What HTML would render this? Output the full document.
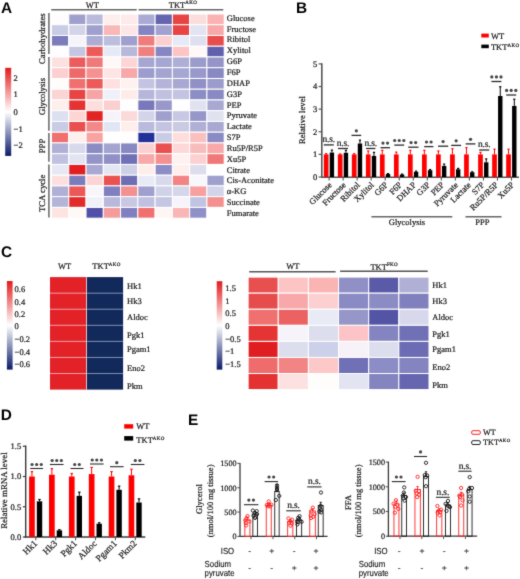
<!DOCTYPE html>
<html><head><meta charset="utf-8"><style>
html,body{margin:0;padding:0;background:#fff;}
svg{display:block;will-change:transform;}
text{stroke:#222;stroke-width:0.22px;paint-order:stroke;text-rendering:geometricPrecision;}
.ns{stroke:none;}
.ss{stroke:#111;stroke-width:0.12px;}

</style></head><body>
<svg width="520" height="579" viewBox="0 0 520 579">
<defs><filter id="soft" x="0" y="0" width="520" height="579" filterUnits="userSpaceOnUse" color-interpolation-filters="sRGB"><feConvolveMatrix order="3" kernelMatrix="0.02 0.08 0.02 0.08 0.60 0.08 0.02 0.08 0.02" edgeMode="duplicate" preserveAlpha="true"/></filter></defs>
<g filter="url(#soft)">
<rect x="0" y="0" width="520" height="579" fill="#fff"/>
<text class="ns" x="1.0" y="13.10" font-size="15.4" font-weight="bold" font-family='"Liberation Sans", sans-serif' fill="#000">A</text>
<rect x="51.50" y="14.00" width="17.27" height="10.74" fill="#FEFCFC" stroke="#ffffff" stroke-width="1" />
<rect x="68.77" y="14.00" width="17.27" height="10.74" fill="#A0A0CE" stroke="#ffffff" stroke-width="1" />
<rect x="86.04" y="14.00" width="17.27" height="10.74" fill="#BABADC" stroke="#ffffff" stroke-width="1" />
<rect x="103.31" y="14.00" width="17.27" height="10.74" fill="#FEEEEC" stroke="#ffffff" stroke-width="1" />
<rect x="120.58" y="14.00" width="17.27" height="10.74" fill="#FEEAEA" stroke="#ffffff" stroke-width="1" />
<rect x="137.85" y="14.00" width="17.27" height="10.74" fill="#AAAAD4" stroke="#ffffff" stroke-width="1" />
<rect x="155.12" y="14.00" width="17.27" height="10.74" fill="#6464B0" stroke="#ffffff" stroke-width="1" />
<rect x="172.39" y="14.00" width="17.27" height="10.74" fill="#E84444" stroke="#ffffff" stroke-width="1" />
<rect x="189.66" y="14.00" width="17.27" height="10.74" fill="#FDDCDC" stroke="#ffffff" stroke-width="1" />
<rect x="206.93" y="14.00" width="17.27" height="10.74" fill="#FAB2B2" stroke="#ffffff" stroke-width="1" />
<rect x="51.50" y="24.74" width="17.27" height="10.74" fill="#C8CCE4" stroke="#ffffff" stroke-width="1" />
<rect x="68.77" y="24.74" width="17.27" height="10.74" fill="#D4D4E8" stroke="#ffffff" stroke-width="1" />
<rect x="86.04" y="24.74" width="17.27" height="10.74" fill="#A0A0CE" stroke="#ffffff" stroke-width="1" />
<rect x="103.31" y="24.74" width="17.27" height="10.74" fill="#F9B8B8" stroke="#ffffff" stroke-width="1" />
<rect x="120.58" y="24.74" width="17.27" height="10.74" fill="#FEE6E6" stroke="#ffffff" stroke-width="1" />
<rect x="137.85" y="24.74" width="17.27" height="10.74" fill="#8484C2" stroke="#ffffff" stroke-width="1" />
<rect x="155.12" y="24.74" width="17.27" height="10.74" fill="#A2A2D0" stroke="#ffffff" stroke-width="1" />
<rect x="172.39" y="24.74" width="17.27" height="10.74" fill="#E84444" stroke="#ffffff" stroke-width="1" />
<rect x="189.66" y="24.74" width="17.27" height="10.74" fill="#E2E4F2" stroke="#ffffff" stroke-width="1" />
<rect x="206.93" y="24.74" width="17.27" height="10.74" fill="#F8A8A8" stroke="#ffffff" stroke-width="1" />
<rect x="51.50" y="35.49" width="17.27" height="10.74" fill="#7C7CBC" stroke="#ffffff" stroke-width="1" />
<rect x="68.77" y="35.49" width="17.27" height="10.74" fill="#F6F4FA" stroke="#ffffff" stroke-width="1" />
<rect x="86.04" y="35.49" width="17.27" height="10.74" fill="#ACACD4" stroke="#ffffff" stroke-width="1" />
<rect x="103.31" y="35.49" width="17.27" height="10.74" fill="#BCBEDE" stroke="#ffffff" stroke-width="1" />
<rect x="120.58" y="35.49" width="17.27" height="10.74" fill="#A0A0CE" stroke="#ffffff" stroke-width="1" />
<rect x="137.85" y="35.49" width="17.27" height="10.74" fill="#F07C7C" stroke="#ffffff" stroke-width="1" />
<rect x="155.12" y="35.49" width="17.27" height="10.74" fill="#FCD0D0" stroke="#ffffff" stroke-width="1" />
<rect x="172.39" y="35.49" width="17.27" height="10.74" fill="#E6EAF6" stroke="#ffffff" stroke-width="1" />
<rect x="189.66" y="35.49" width="17.27" height="10.74" fill="#DEE0F0" stroke="#ffffff" stroke-width="1" />
<rect x="206.93" y="35.49" width="17.27" height="10.74" fill="#E84C4C" stroke="#ffffff" stroke-width="1" />
<rect x="51.50" y="46.23" width="17.27" height="10.74" fill="#FFFDFD" stroke="#ffffff" stroke-width="1" />
<rect x="68.77" y="46.23" width="17.27" height="10.74" fill="#C4C6E2" stroke="#ffffff" stroke-width="1" />
<rect x="86.04" y="46.23" width="17.27" height="10.74" fill="#EC5A5A" stroke="#ffffff" stroke-width="1" />
<rect x="103.31" y="46.23" width="17.27" height="10.74" fill="#E6EAF6" stroke="#ffffff" stroke-width="1" />
<rect x="120.58" y="46.23" width="17.27" height="10.74" fill="#B8B8DA" stroke="#ffffff" stroke-width="1" />
<rect x="137.85" y="46.23" width="17.27" height="10.74" fill="#F08080" stroke="#ffffff" stroke-width="1" />
<rect x="155.12" y="46.23" width="17.27" height="10.74" fill="#8686C4" stroke="#ffffff" stroke-width="1" />
<rect x="172.39" y="46.23" width="17.27" height="10.74" fill="#FCC4C4" stroke="#ffffff" stroke-width="1" />
<rect x="189.66" y="46.23" width="17.27" height="10.74" fill="#FFF8F6" stroke="#ffffff" stroke-width="1" />
<rect x="206.93" y="46.23" width="17.27" height="10.74" fill="#6060AE" stroke="#ffffff" stroke-width="1" />
<rect x="51.50" y="56.98" width="17.27" height="10.74" fill="#FDE0E0" stroke="#ffffff" stroke-width="1" />
<rect x="68.77" y="56.98" width="17.27" height="10.74" fill="#EC5C5C" stroke="#ffffff" stroke-width="1" />
<rect x="86.04" y="56.98" width="17.27" height="10.74" fill="#F07A7A" stroke="#ffffff" stroke-width="1" />
<rect x="103.31" y="56.98" width="17.27" height="10.74" fill="#FEF8F6" stroke="#ffffff" stroke-width="1" />
<rect x="120.58" y="56.98" width="17.27" height="10.74" fill="#FCD6D6" stroke="#ffffff" stroke-width="1" />
<rect x="137.85" y="56.98" width="17.27" height="10.74" fill="#A6A6D2" stroke="#ffffff" stroke-width="1" />
<rect x="155.12" y="56.98" width="17.27" height="10.74" fill="#A6A6D2" stroke="#ffffff" stroke-width="1" />
<rect x="172.39" y="56.98" width="17.27" height="10.74" fill="#AEAED6" stroke="#ffffff" stroke-width="1" />
<rect x="189.66" y="56.98" width="17.27" height="10.74" fill="#9C9CCC" stroke="#ffffff" stroke-width="1" />
<rect x="206.93" y="56.98" width="17.27" height="10.74" fill="#9494C8" stroke="#ffffff" stroke-width="1" />
<rect x="51.50" y="67.72" width="17.27" height="10.74" fill="#FCD0D0" stroke="#ffffff" stroke-width="1" />
<rect x="68.77" y="67.72" width="17.27" height="10.74" fill="#EE6A6A" stroke="#ffffff" stroke-width="1" />
<rect x="86.04" y="67.72" width="17.27" height="10.74" fill="#F49292" stroke="#ffffff" stroke-width="1" />
<rect x="103.31" y="67.72" width="17.27" height="10.74" fill="#FEE4E4" stroke="#ffffff" stroke-width="1" />
<rect x="120.58" y="67.72" width="17.27" height="10.74" fill="#F8A8A8" stroke="#ffffff" stroke-width="1" />
<rect x="137.85" y="67.72" width="17.27" height="10.74" fill="#9C9CCE" stroke="#ffffff" stroke-width="1" />
<rect x="155.12" y="67.72" width="17.27" height="10.74" fill="#A4A4D0" stroke="#ffffff" stroke-width="1" />
<rect x="172.39" y="67.72" width="17.27" height="10.74" fill="#A6A6D2" stroke="#ffffff" stroke-width="1" />
<rect x="189.66" y="67.72" width="17.27" height="10.74" fill="#9898CA" stroke="#ffffff" stroke-width="1" />
<rect x="206.93" y="67.72" width="17.27" height="10.74" fill="#8888C2" stroke="#ffffff" stroke-width="1" />
<rect x="51.50" y="78.47" width="17.27" height="10.74" fill="#FFFCFC" stroke="#ffffff" stroke-width="1" />
<rect x="68.77" y="78.47" width="17.27" height="10.74" fill="#F07070" stroke="#ffffff" stroke-width="1" />
<rect x="86.04" y="78.47" width="17.27" height="10.74" fill="#EC5A5A" stroke="#ffffff" stroke-width="1" />
<rect x="103.31" y="78.47" width="17.27" height="10.74" fill="#FEE0E0" stroke="#ffffff" stroke-width="1" />
<rect x="120.58" y="78.47" width="17.27" height="10.74" fill="#FEF2F0" stroke="#ffffff" stroke-width="1" />
<rect x="137.85" y="78.47" width="17.27" height="10.74" fill="#C4C4E2" stroke="#ffffff" stroke-width="1" />
<rect x="155.12" y="78.47" width="17.27" height="10.74" fill="#B4B4DA" stroke="#ffffff" stroke-width="1" />
<rect x="172.39" y="78.47" width="17.27" height="10.74" fill="#A8A8D2" stroke="#ffffff" stroke-width="1" />
<rect x="189.66" y="78.47" width="17.27" height="10.74" fill="#9090C6" stroke="#ffffff" stroke-width="1" />
<rect x="206.93" y="78.47" width="17.27" height="10.74" fill="#9C9CCC" stroke="#ffffff" stroke-width="1" />
<rect x="51.50" y="89.21" width="17.27" height="10.74" fill="#FCD4D4" stroke="#ffffff" stroke-width="1" />
<rect x="68.77" y="89.21" width="17.27" height="10.74" fill="#E84444" stroke="#ffffff" stroke-width="1" />
<rect x="86.04" y="89.21" width="17.27" height="10.74" fill="#F6A4A4" stroke="#ffffff" stroke-width="1" />
<rect x="103.31" y="89.21" width="17.27" height="10.74" fill="#F0F0F8" stroke="#ffffff" stroke-width="1" />
<rect x="120.58" y="89.21" width="17.27" height="10.74" fill="#FEECEA" stroke="#ffffff" stroke-width="1" />
<rect x="137.85" y="89.21" width="17.27" height="10.74" fill="#B6B6DB" stroke="#ffffff" stroke-width="1" />
<rect x="155.12" y="89.21" width="17.27" height="10.74" fill="#C0C0E0" stroke="#ffffff" stroke-width="1" />
<rect x="172.39" y="89.21" width="17.27" height="10.74" fill="#C4C4E2" stroke="#ffffff" stroke-width="1" />
<rect x="189.66" y="89.21" width="17.27" height="10.74" fill="#8D8DC5" stroke="#ffffff" stroke-width="1" />
<rect x="206.93" y="89.21" width="17.27" height="10.74" fill="#8989C3" stroke="#ffffff" stroke-width="1" />
<rect x="51.50" y="99.96" width="17.27" height="10.74" fill="#FEEEEC" stroke="#ffffff" stroke-width="1" />
<rect x="68.77" y="99.96" width="17.27" height="10.74" fill="#E63232" stroke="#ffffff" stroke-width="1" />
<rect x="86.04" y="99.96" width="17.27" height="10.74" fill="#FDDEDE" stroke="#ffffff" stroke-width="1" />
<rect x="103.31" y="99.96" width="17.27" height="10.74" fill="#FBCFCF" stroke="#ffffff" stroke-width="1" />
<rect x="120.58" y="99.96" width="17.27" height="10.74" fill="#FFFEFE" stroke="#ffffff" stroke-width="1" />
<rect x="137.85" y="99.96" width="17.27" height="10.74" fill="#7878BA" stroke="#ffffff" stroke-width="1" />
<rect x="155.12" y="99.96" width="17.27" height="10.74" fill="#9898CA" stroke="#ffffff" stroke-width="1" />
<rect x="172.39" y="99.96" width="17.27" height="10.74" fill="#FFFFFF" stroke="#ffffff" stroke-width="1" />
<rect x="189.66" y="99.96" width="17.27" height="10.74" fill="#E0E2F0" stroke="#ffffff" stroke-width="1" />
<rect x="206.93" y="99.96" width="17.27" height="10.74" fill="#A8A8D2" stroke="#ffffff" stroke-width="1" />
<rect x="51.50" y="110.70" width="17.27" height="10.74" fill="#DDE0F0" stroke="#ffffff" stroke-width="1" />
<rect x="68.77" y="110.70" width="17.27" height="10.74" fill="#FDD6D4" stroke="#ffffff" stroke-width="1" />
<rect x="86.04" y="110.70" width="17.27" height="10.74" fill="#E42424" stroke="#ffffff" stroke-width="1" />
<rect x="103.31" y="110.70" width="17.27" height="10.74" fill="#F6F4FA" stroke="#ffffff" stroke-width="1" />
<rect x="120.58" y="110.70" width="17.27" height="10.74" fill="#FCDADA" stroke="#ffffff" stroke-width="1" />
<rect x="137.85" y="110.70" width="17.27" height="10.74" fill="#D2D4EA" stroke="#ffffff" stroke-width="1" />
<rect x="155.12" y="110.70" width="17.27" height="10.74" fill="#A0A0CE" stroke="#ffffff" stroke-width="1" />
<rect x="172.39" y="110.70" width="17.27" height="10.74" fill="#C8C8E4" stroke="#ffffff" stroke-width="1" />
<rect x="189.66" y="110.70" width="17.27" height="10.74" fill="#9696CA" stroke="#ffffff" stroke-width="1" />
<rect x="206.93" y="110.70" width="17.27" height="10.74" fill="#E0E2F0" stroke="#ffffff" stroke-width="1" />
<rect x="51.50" y="121.45" width="17.27" height="10.74" fill="#C8CCE4" stroke="#ffffff" stroke-width="1" />
<rect x="68.77" y="121.45" width="17.27" height="10.74" fill="#EA4E4E" stroke="#ffffff" stroke-width="1" />
<rect x="86.04" y="121.45" width="17.27" height="10.74" fill="#F28888" stroke="#ffffff" stroke-width="1" />
<rect x="103.31" y="121.45" width="17.27" height="10.74" fill="#E2E6F4" stroke="#ffffff" stroke-width="1" />
<rect x="120.58" y="121.45" width="17.27" height="10.74" fill="#FEEEEC" stroke="#ffffff" stroke-width="1" />
<rect x="137.85" y="121.45" width="17.27" height="10.74" fill="#BABADC" stroke="#ffffff" stroke-width="1" />
<rect x="155.12" y="121.45" width="17.27" height="10.74" fill="#C4C4E2" stroke="#ffffff" stroke-width="1" />
<rect x="172.39" y="121.45" width="17.27" height="10.74" fill="#CACAE4" stroke="#ffffff" stroke-width="1" />
<rect x="189.66" y="121.45" width="17.27" height="10.74" fill="#B0B0D6" stroke="#ffffff" stroke-width="1" />
<rect x="206.93" y="121.45" width="17.27" height="10.74" fill="#A8A8D2" stroke="#ffffff" stroke-width="1" />
<rect x="51.50" y="132.19" width="17.27" height="10.74" fill="#F07070" stroke="#ffffff" stroke-width="1" />
<rect x="68.77" y="132.19" width="17.27" height="10.74" fill="#FEEEEC" stroke="#ffffff" stroke-width="1" />
<rect x="86.04" y="132.19" width="17.27" height="10.74" fill="#F8A2A2" stroke="#ffffff" stroke-width="1" />
<rect x="103.31" y="132.19" width="17.27" height="10.74" fill="#FFFFFF" stroke="#ffffff" stroke-width="1" />
<rect x="120.58" y="132.19" width="17.27" height="10.74" fill="#FFFDFD" stroke="#ffffff" stroke-width="1" />
<rect x="137.85" y="132.19" width="17.27" height="10.74" fill="#24309A" stroke="#ffffff" stroke-width="1" />
<rect x="155.12" y="132.19" width="17.27" height="10.74" fill="#CACCE6" stroke="#ffffff" stroke-width="1" />
<rect x="172.39" y="132.19" width="17.27" height="10.74" fill="#FDDEDC" stroke="#ffffff" stroke-width="1" />
<rect x="189.66" y="132.19" width="17.27" height="10.74" fill="#FAC0C0" stroke="#ffffff" stroke-width="1" />
<rect x="206.93" y="132.19" width="17.27" height="10.74" fill="#8A8AC4" stroke="#ffffff" stroke-width="1" />
<rect x="51.50" y="142.94" width="17.27" height="10.74" fill="#B0B0D6" stroke="#ffffff" stroke-width="1" />
<rect x="68.77" y="142.94" width="17.27" height="10.74" fill="#D8DAEC" stroke="#ffffff" stroke-width="1" />
<rect x="86.04" y="142.94" width="17.27" height="10.74" fill="#8C8CC4" stroke="#ffffff" stroke-width="1" />
<rect x="103.31" y="142.94" width="17.27" height="10.74" fill="#A4A4D0" stroke="#ffffff" stroke-width="1" />
<rect x="120.58" y="142.94" width="17.27" height="10.74" fill="#8888C2" stroke="#ffffff" stroke-width="1" />
<rect x="137.85" y="142.94" width="17.27" height="10.74" fill="#FCD0D0" stroke="#ffffff" stroke-width="1" />
<rect x="155.12" y="142.94" width="17.27" height="10.74" fill="#EA5050" stroke="#ffffff" stroke-width="1" />
<rect x="172.39" y="142.94" width="17.27" height="10.74" fill="#FDD8D8" stroke="#ffffff" stroke-width="1" />
<rect x="189.66" y="142.94" width="17.27" height="10.74" fill="#F9BCBC" stroke="#ffffff" stroke-width="1" />
<rect x="206.93" y="142.94" width="17.27" height="10.74" fill="#F8A8A8" stroke="#ffffff" stroke-width="1" />
<rect x="51.50" y="153.69" width="17.27" height="10.74" fill="#C0C0E0" stroke="#ffffff" stroke-width="1" />
<rect x="68.77" y="153.69" width="17.27" height="10.74" fill="#E2E4F2" stroke="#ffffff" stroke-width="1" />
<rect x="86.04" y="153.69" width="17.27" height="10.74" fill="#9494C8" stroke="#ffffff" stroke-width="1" />
<rect x="103.31" y="153.69" width="17.27" height="10.74" fill="#9090C6" stroke="#ffffff" stroke-width="1" />
<rect x="120.58" y="153.69" width="17.27" height="10.74" fill="#7070B6" stroke="#ffffff" stroke-width="1" />
<rect x="137.85" y="153.69" width="17.27" height="10.74" fill="#F8A8A8" stroke="#ffffff" stroke-width="1" />
<rect x="155.12" y="153.69" width="17.27" height="10.74" fill="#F49090" stroke="#ffffff" stroke-width="1" />
<rect x="172.39" y="153.69" width="17.27" height="10.74" fill="#FEF2F0" stroke="#ffffff" stroke-width="1" />
<rect x="189.66" y="153.69" width="17.27" height="10.74" fill="#FCD0D0" stroke="#ffffff" stroke-width="1" />
<rect x="206.93" y="153.69" width="17.27" height="10.74" fill="#F07878" stroke="#ffffff" stroke-width="1" />
<rect x="51.50" y="164.43" width="17.27" height="10.74" fill="#E6E8F4" stroke="#ffffff" stroke-width="1" />
<rect x="68.77" y="164.43" width="17.27" height="10.74" fill="#E21E20" stroke="#ffffff" stroke-width="1" />
<rect x="86.04" y="164.43" width="17.27" height="10.74" fill="#A8A8D2" stroke="#ffffff" stroke-width="1" />
<rect x="103.31" y="164.43" width="17.27" height="10.74" fill="#E4E6F4" stroke="#ffffff" stroke-width="1" />
<rect x="120.58" y="164.43" width="17.27" height="10.74" fill="#CED0E8" stroke="#ffffff" stroke-width="1" />
<rect x="137.85" y="164.43" width="17.27" height="10.74" fill="#FEEEEA" stroke="#ffffff" stroke-width="1" />
<rect x="155.12" y="164.43" width="17.27" height="10.74" fill="#8C8CC6" stroke="#ffffff" stroke-width="1" />
<rect x="172.39" y="164.43" width="17.27" height="10.74" fill="#FEEEEC" stroke="#ffffff" stroke-width="1" />
<rect x="189.66" y="164.43" width="17.27" height="10.74" fill="#DCDEEE" stroke="#ffffff" stroke-width="1" />
<rect x="206.93" y="164.43" width="17.27" height="10.74" fill="#FFFFFF" stroke="#ffffff" stroke-width="1" />
<rect x="51.50" y="175.17" width="17.27" height="10.74" fill="#FDE0DE" stroke="#ffffff" stroke-width="1" />
<rect x="68.77" y="175.17" width="17.27" height="10.74" fill="#7C7CBC" stroke="#ffffff" stroke-width="1" />
<rect x="86.04" y="175.17" width="17.27" height="10.74" fill="#FCD4D4" stroke="#ffffff" stroke-width="1" />
<rect x="103.31" y="175.17" width="17.27" height="10.74" fill="#EA5252" stroke="#ffffff" stroke-width="1" />
<rect x="120.58" y="175.17" width="17.27" height="10.74" fill="#6E6EB4" stroke="#ffffff" stroke-width="1" />
<rect x="137.85" y="175.17" width="17.27" height="10.74" fill="#E8EAF6" stroke="#ffffff" stroke-width="1" />
<rect x="155.12" y="175.17" width="17.27" height="10.74" fill="#D8DAEC" stroke="#ffffff" stroke-width="1" />
<rect x="172.39" y="175.17" width="17.27" height="10.74" fill="#F28484" stroke="#ffffff" stroke-width="1" />
<rect x="189.66" y="175.17" width="17.27" height="10.74" fill="#F8F8FC" stroke="#ffffff" stroke-width="1" />
<rect x="206.93" y="175.17" width="17.27" height="10.74" fill="#A0A0CE" stroke="#ffffff" stroke-width="1" />
<rect x="51.50" y="185.92" width="17.27" height="10.74" fill="#B0B0D6" stroke="#ffffff" stroke-width="1" />
<rect x="68.77" y="185.92" width="17.27" height="10.74" fill="#EC5858" stroke="#ffffff" stroke-width="1" />
<rect x="86.04" y="185.92" width="17.27" height="10.74" fill="#F8F6FA" stroke="#ffffff" stroke-width="1" />
<rect x="103.31" y="185.92" width="17.27" height="10.74" fill="#8080C0" stroke="#ffffff" stroke-width="1" />
<rect x="120.58" y="185.92" width="17.27" height="10.74" fill="#F49090" stroke="#ffffff" stroke-width="1" />
<rect x="137.85" y="185.92" width="17.27" height="10.74" fill="#A0A0CE" stroke="#ffffff" stroke-width="1" />
<rect x="155.12" y="185.92" width="17.27" height="10.74" fill="#D0D2E8" stroke="#ffffff" stroke-width="1" />
<rect x="172.39" y="185.92" width="17.27" height="10.74" fill="#D4D6EA" stroke="#ffffff" stroke-width="1" />
<rect x="189.66" y="185.92" width="17.27" height="10.74" fill="#F8A0A0" stroke="#ffffff" stroke-width="1" />
<rect x="206.93" y="185.92" width="17.27" height="10.74" fill="#D2D4EA" stroke="#ffffff" stroke-width="1" />
<rect x="51.50" y="196.66" width="17.27" height="10.74" fill="#B4B4D8" stroke="#ffffff" stroke-width="1" />
<rect x="68.77" y="196.66" width="17.27" height="10.74" fill="#E22A2A" stroke="#ffffff" stroke-width="1" />
<rect x="86.04" y="196.66" width="17.27" height="10.74" fill="#F0F0F8" stroke="#ffffff" stroke-width="1" />
<rect x="103.31" y="196.66" width="17.27" height="10.74" fill="#B8B8DC" stroke="#ffffff" stroke-width="1" />
<rect x="120.58" y="196.66" width="17.27" height="10.74" fill="#C8C8E4" stroke="#ffffff" stroke-width="1" />
<rect x="137.85" y="196.66" width="17.27" height="10.74" fill="#C0C0E0" stroke="#ffffff" stroke-width="1" />
<rect x="155.12" y="196.66" width="17.27" height="10.74" fill="#C4C6E2" stroke="#ffffff" stroke-width="1" />
<rect x="172.39" y="196.66" width="17.27" height="10.74" fill="#F6F4FA" stroke="#ffffff" stroke-width="1" />
<rect x="189.66" y="196.66" width="17.27" height="10.74" fill="#C0C4E2" stroke="#ffffff" stroke-width="1" />
<rect x="206.93" y="196.66" width="17.27" height="10.74" fill="#F49090" stroke="#ffffff" stroke-width="1" />
<rect x="51.50" y="207.41" width="17.27" height="10.74" fill="#FDE4E2" stroke="#ffffff" stroke-width="1" />
<rect x="68.77" y="207.41" width="17.27" height="10.74" fill="#FEF8F6" stroke="#ffffff" stroke-width="1" />
<rect x="86.04" y="207.41" width="17.27" height="10.74" fill="#5050A8" stroke="#ffffff" stroke-width="1" />
<rect x="103.31" y="207.41" width="17.27" height="10.74" fill="#F49C9C" stroke="#ffffff" stroke-width="1" />
<rect x="120.58" y="207.41" width="17.27" height="10.74" fill="#8080C0" stroke="#ffffff" stroke-width="1" />
<rect x="137.85" y="207.41" width="17.27" height="10.74" fill="#F07070" stroke="#ffffff" stroke-width="1" />
<rect x="155.12" y="207.41" width="17.27" height="10.74" fill="#FEF6F4" stroke="#ffffff" stroke-width="1" />
<rect x="172.39" y="207.41" width="17.27" height="10.74" fill="#FAB6B6" stroke="#ffffff" stroke-width="1" />
<rect x="189.66" y="207.41" width="17.27" height="10.74" fill="#9090C8" stroke="#ffffff" stroke-width="1" />
<rect x="206.93" y="207.41" width="17.27" height="10.74" fill="#FFFFFF" stroke="#ffffff" stroke-width="1" />
<text x="226.80" y="20.70" font-size="8.5" text-anchor="start" font-family='"Liberation Serif", serif' fill="#1a1a1a" >Glucose</text>
<text x="226.80" y="31.55" font-size="8.5" text-anchor="start" font-family='"Liberation Serif", serif' fill="#1a1a1a" >Fructose</text>
<text x="226.80" y="42.40" font-size="8.5" text-anchor="start" font-family='"Liberation Serif", serif' fill="#1a1a1a" >Ribitol</text>
<text x="226.80" y="53.25" font-size="8.5" text-anchor="start" font-family='"Liberation Serif", serif' fill="#1a1a1a" >Xylitol</text>
<text x="226.80" y="64.10" font-size="8.5" text-anchor="start" font-family='"Liberation Serif", serif' fill="#1a1a1a" >G6P</text>
<text x="226.80" y="74.95" font-size="8.5" text-anchor="start" font-family='"Liberation Serif", serif' fill="#1a1a1a" >F6P</text>
<text x="226.80" y="85.80" font-size="8.5" text-anchor="start" font-family='"Liberation Serif", serif' fill="#1a1a1a" >DHAP</text>
<text x="226.80" y="96.65" font-size="8.5" text-anchor="start" font-family='"Liberation Serif", serif' fill="#1a1a1a" >G3P</text>
<text x="226.80" y="107.50" font-size="8.5" text-anchor="start" font-family='"Liberation Serif", serif' fill="#1a1a1a" >PEP</text>
<text x="226.80" y="118.35" font-size="8.5" text-anchor="start" font-family='"Liberation Serif", serif' fill="#1a1a1a" >Pyruvate</text>
<text x="226.80" y="129.20" font-size="8.5" text-anchor="start" font-family='"Liberation Serif", serif' fill="#1a1a1a" >Lactate</text>
<text x="226.80" y="140.05" font-size="8.5" text-anchor="start" font-family='"Liberation Serif", serif' fill="#1a1a1a" >S7P</text>
<text x="226.80" y="150.90" font-size="8.5" text-anchor="start" font-family='"Liberation Serif", serif' fill="#1a1a1a" >Ru5P/R5P</text>
<text x="226.80" y="161.75" font-size="8.5" text-anchor="start" font-family='"Liberation Serif", serif' fill="#1a1a1a" >Xu5P</text>
<text x="226.80" y="172.60" font-size="8.5" text-anchor="start" font-family='"Liberation Serif", serif' fill="#1a1a1a" >Citrate</text>
<text x="226.80" y="183.45" font-size="8.5" text-anchor="start" font-family='"Liberation Serif", serif' fill="#1a1a1a" >Cis-Aconitate</text>
<text x="226.80" y="194.30" font-size="8.5" text-anchor="start" font-family='"Liberation Serif", serif' fill="#1a1a1a" >&#945;-KG</text>
<text x="226.80" y="205.15" font-size="8.5" text-anchor="start" font-family='"Liberation Serif", serif' fill="#1a1a1a" >Succinate</text>
<text x="226.80" y="216.00" font-size="8.5" text-anchor="start" font-family='"Liberation Serif", serif' fill="#1a1a1a" >Fumarate</text>
<line x1="51.30" y1="9.80" x2="136.70" y2="9.80" stroke="#666" stroke-width="1.5"/>
<line x1="138.60" y1="9.80" x2="223.30" y2="9.80" stroke="#666" stroke-width="1.5"/>
<text x="92.30" y="7.60" font-size="8.5" text-anchor="middle" font-family='"Liberation Serif", serif' fill="#1a1a1a" >WT</text>
<text x="168.70" y="7.50" font-size="8.5" text-anchor="start" font-family='"Liberation Serif", serif' fill="#1a1a1a">TKT<tspan font-size="5.01" dy="-3.15" letter-spacing="0.4">AKO</tspan></text>
<line x1="48.90" y1="13.00" x2="48.90" y2="54.00" stroke="#666" stroke-width="1.5"/>
<line x1="48.90" y1="57.10" x2="48.90" y2="130.70" stroke="#666" stroke-width="1.5"/>
<line x1="48.90" y1="133.10" x2="48.90" y2="161.80" stroke="#666" stroke-width="1.5"/>
<line x1="48.90" y1="164.60" x2="48.90" y2="217.50" stroke="#666" stroke-width="1.5"/>
<text x="0" y="0" font-size="8.7" text-anchor="middle" font-family='"Liberation Serif", serif' fill="#1a1a1a" transform="translate(45.20,38.60) rotate(-90)">Carbohydrates</text>
<text x="0" y="0" font-size="8.7" text-anchor="middle" font-family='"Liberation Serif", serif' fill="#1a1a1a" transform="translate(45.20,96.50) rotate(-90)">Glycolysis</text>
<text x="0" y="0" font-size="8.7" text-anchor="middle" font-family='"Liberation Serif", serif' fill="#1a1a1a" transform="translate(45.20,146.00) rotate(-90)">PPP</text>
<text x="0" y="0" font-size="8.7" text-anchor="middle" font-family='"Liberation Serif", serif' fill="#1a1a1a" transform="translate(45.20,193.30) rotate(-90)">TCA cycle</text>
<defs><linearGradient id="cbA" x1="0" y1="0" x2="0" y2="1"><stop offset="0" stop-color="#E31A1C"/><stop offset="0.5" stop-color="#FFFFFF"/><stop offset="1" stop-color="#0A1A6A"/></linearGradient><linearGradient id="cbC" x1="0" y1="0" x2="0" y2="1"><stop offset="0" stop-color="#E31A1C"/><stop offset="0.5" stop-color="#FFFFFF"/><stop offset="1" stop-color="#0A1A6A"/></linearGradient></defs>
<rect x="5.20" y="67.80" width="6.00" height="88.10" fill="url(#cbA)" stroke="none" stroke-width="0" />
<text x="13.60" y="80.90" font-size="8.5" text-anchor="start" font-family='"Liberation Serif", serif' fill="#1a1a1a" >2</text>
<text x="13.60" y="97.40" font-size="8.5" text-anchor="start" font-family='"Liberation Serif", serif' fill="#1a1a1a" >1</text>
<text x="13.60" y="114.70" font-size="8.5" text-anchor="start" font-family='"Liberation Serif", serif' fill="#1a1a1a" >0</text>
<text x="13.60" y="131.90" font-size="8.5" text-anchor="start" font-family='"Liberation Serif", serif' fill="#1a1a1a" >&#8722;1</text>
<text x="13.60" y="148.40" font-size="8.5" text-anchor="start" font-family='"Liberation Serif", serif' fill="#1a1a1a" >&#8722;2</text>
<text class="ns" x="296.0" y="13.10" font-size="15.4" font-weight="bold" font-family='"Liberation Sans", sans-serif' fill="#000">B</text>
<line x1="321.80" y1="63.20" x2="321.80" y2="177.60" stroke="#555555" stroke-width="1.6"/>
<line x1="318.60" y1="177.00" x2="321.80" y2="177.00" stroke="#555555" stroke-width="1.2"/>
<text x="317.30" y="179.90" font-size="8.5" text-anchor="end" font-family='"Liberation Serif", serif' fill="#1a1a1a" >0</text>
<line x1="318.60" y1="154.38" x2="321.80" y2="154.38" stroke="#555555" stroke-width="1.2"/>
<text x="317.30" y="157.28" font-size="8.5" text-anchor="end" font-family='"Liberation Serif", serif' fill="#1a1a1a" >1</text>
<line x1="318.60" y1="131.76" x2="321.80" y2="131.76" stroke="#555555" stroke-width="1.2"/>
<text x="317.30" y="134.66" font-size="8.5" text-anchor="end" font-family='"Liberation Serif", serif' fill="#1a1a1a" >2</text>
<line x1="318.60" y1="109.14" x2="321.80" y2="109.14" stroke="#555555" stroke-width="1.2"/>
<text x="317.30" y="112.04" font-size="8.5" text-anchor="end" font-family='"Liberation Serif", serif' fill="#1a1a1a" >3</text>
<line x1="318.60" y1="86.52" x2="321.80" y2="86.52" stroke="#555555" stroke-width="1.2"/>
<text x="317.30" y="89.42" font-size="8.5" text-anchor="end" font-family='"Liberation Serif", serif' fill="#1a1a1a" >4</text>
<line x1="318.60" y1="63.90" x2="321.80" y2="63.90" stroke="#555555" stroke-width="1.2"/>
<text x="317.30" y="66.80" font-size="8.5" text-anchor="end" font-family='"Liberation Serif", serif' fill="#1a1a1a" >5</text>
<line x1="321.10" y1="177.20" x2="519.00" y2="177.20" stroke="#555555" stroke-width="1.6"/>
<text x="0" y="0" font-size="8.7" text-anchor="middle" font-family='"Liberation Serif", serif' fill="#1a1a1a" transform="translate(305.30,120.10) rotate(-90)">Relative level</text>
<line x1="326.15" y1="154.38" x2="326.15" y2="153.70" stroke="#ff0000" stroke-width="1.0"/>
<line x1="325.05" y1="153.70" x2="327.25" y2="153.70" stroke="#ff0000" stroke-width="1.2"/>
<rect x="323.80" y="154.38" width="4.70" height="22.62" fill="#ff0000" stroke="none" stroke-width="0" />
<line x1="331.90" y1="152.57" x2="331.90" y2="150.08" stroke="#000" stroke-width="1.0"/>
<line x1="330.80" y1="150.08" x2="333.00" y2="150.08" stroke="#000" stroke-width="1.2"/>
<rect x="329.70" y="152.57" width="4.40" height="24.43" fill="#000" stroke="none" stroke-width="0" />
<line x1="329.10" y1="177.20" x2="329.10" y2="180.60" stroke="#555555" stroke-width="1.1"/>
<line x1="340.18" y1="154.38" x2="340.18" y2="153.93" stroke="#ff0000" stroke-width="1.0"/>
<line x1="339.08" y1="153.93" x2="341.28" y2="153.93" stroke="#ff0000" stroke-width="1.2"/>
<rect x="337.83" y="154.38" width="4.70" height="22.62" fill="#ff0000" stroke="none" stroke-width="0" />
<line x1="345.93" y1="152.80" x2="345.93" y2="150.31" stroke="#000" stroke-width="1.0"/>
<line x1="344.83" y1="150.31" x2="347.03" y2="150.31" stroke="#000" stroke-width="1.2"/>
<rect x="343.73" y="152.80" width="4.40" height="24.20" fill="#000" stroke="none" stroke-width="0" />
<line x1="343.13" y1="177.20" x2="343.13" y2="180.60" stroke="#555555" stroke-width="1.1"/>
<line x1="354.21" y1="154.38" x2="354.21" y2="153.70" stroke="#ff0000" stroke-width="1.0"/>
<line x1="353.11" y1="153.70" x2="355.31" y2="153.70" stroke="#ff0000" stroke-width="1.2"/>
<rect x="351.86" y="154.38" width="4.70" height="22.62" fill="#ff0000" stroke="none" stroke-width="0" />
<line x1="359.96" y1="143.52" x2="359.96" y2="140.13" stroke="#000" stroke-width="1.0"/>
<line x1="358.86" y1="140.13" x2="361.06" y2="140.13" stroke="#000" stroke-width="1.2"/>
<rect x="357.76" y="143.52" width="4.40" height="33.48" fill="#000" stroke="none" stroke-width="0" />
<line x1="357.16" y1="177.20" x2="357.16" y2="180.60" stroke="#555555" stroke-width="1.1"/>
<line x1="368.24" y1="154.38" x2="368.24" y2="150.99" stroke="#ff0000" stroke-width="1.0"/>
<line x1="367.14" y1="150.99" x2="369.34" y2="150.99" stroke="#ff0000" stroke-width="1.2"/>
<rect x="365.89" y="154.38" width="4.70" height="22.62" fill="#ff0000" stroke="none" stroke-width="0" />
<line x1="373.99" y1="155.96" x2="373.99" y2="152.34" stroke="#000" stroke-width="1.0"/>
<line x1="372.89" y1="152.34" x2="375.09" y2="152.34" stroke="#000" stroke-width="1.2"/>
<rect x="371.79" y="155.96" width="4.40" height="21.04" fill="#000" stroke="none" stroke-width="0" />
<line x1="371.19" y1="177.20" x2="371.19" y2="180.60" stroke="#555555" stroke-width="1.1"/>
<line x1="382.27" y1="154.38" x2="382.27" y2="150.31" stroke="#ff0000" stroke-width="1.0"/>
<line x1="381.17" y1="150.31" x2="383.37" y2="150.31" stroke="#ff0000" stroke-width="1.2"/>
<rect x="379.92" y="154.38" width="4.70" height="22.62" fill="#ff0000" stroke="none" stroke-width="0" />
<line x1="388.02" y1="174.06" x2="388.02" y2="173.61" stroke="#000" stroke-width="1.0"/>
<line x1="386.92" y1="173.61" x2="389.12" y2="173.61" stroke="#000" stroke-width="1.2"/>
<rect x="385.82" y="174.06" width="4.40" height="2.94" fill="#000" stroke="none" stroke-width="0" />
<line x1="385.22" y1="177.20" x2="385.22" y2="180.60" stroke="#555555" stroke-width="1.1"/>
<line x1="396.30" y1="154.38" x2="396.30" y2="152.12" stroke="#ff0000" stroke-width="1.0"/>
<line x1="395.20" y1="152.12" x2="397.40" y2="152.12" stroke="#ff0000" stroke-width="1.2"/>
<rect x="393.95" y="154.38" width="4.70" height="22.62" fill="#ff0000" stroke="none" stroke-width="0" />
<line x1="402.05" y1="174.51" x2="402.05" y2="174.06" stroke="#000" stroke-width="1.0"/>
<line x1="400.95" y1="174.06" x2="403.15" y2="174.06" stroke="#000" stroke-width="1.2"/>
<rect x="399.85" y="174.51" width="4.40" height="2.49" fill="#000" stroke="none" stroke-width="0" />
<line x1="399.25" y1="177.20" x2="399.25" y2="180.60" stroke="#555555" stroke-width="1.1"/>
<line x1="410.33" y1="154.38" x2="410.33" y2="150.31" stroke="#ff0000" stroke-width="1.0"/>
<line x1="409.23" y1="150.31" x2="411.43" y2="150.31" stroke="#ff0000" stroke-width="1.2"/>
<rect x="407.98" y="154.38" width="4.70" height="22.62" fill="#ff0000" stroke="none" stroke-width="0" />
<line x1="416.08" y1="171.80" x2="416.08" y2="171.12" stroke="#000" stroke-width="1.0"/>
<line x1="414.98" y1="171.12" x2="417.18" y2="171.12" stroke="#000" stroke-width="1.2"/>
<rect x="413.88" y="171.80" width="4.40" height="5.20" fill="#000" stroke="none" stroke-width="0" />
<line x1="413.28" y1="177.20" x2="413.28" y2="180.60" stroke="#555555" stroke-width="1.1"/>
<line x1="424.36" y1="154.38" x2="424.36" y2="150.31" stroke="#ff0000" stroke-width="1.0"/>
<line x1="423.26" y1="150.31" x2="425.46" y2="150.31" stroke="#ff0000" stroke-width="1.2"/>
<rect x="422.01" y="154.38" width="4.70" height="22.62" fill="#ff0000" stroke="none" stroke-width="0" />
<line x1="430.11" y1="170.21" x2="430.11" y2="169.54" stroke="#000" stroke-width="1.0"/>
<line x1="429.01" y1="169.54" x2="431.21" y2="169.54" stroke="#000" stroke-width="1.2"/>
<rect x="427.91" y="170.21" width="4.40" height="6.79" fill="#000" stroke="none" stroke-width="0" />
<line x1="427.31" y1="177.20" x2="427.31" y2="180.60" stroke="#555555" stroke-width="1.1"/>
<line x1="438.39" y1="154.38" x2="438.39" y2="150.99" stroke="#ff0000" stroke-width="1.0"/>
<line x1="437.29" y1="150.99" x2="439.49" y2="150.99" stroke="#ff0000" stroke-width="1.2"/>
<rect x="436.04" y="154.38" width="4.70" height="22.62" fill="#ff0000" stroke="none" stroke-width="0" />
<line x1="444.14" y1="165.92" x2="444.14" y2="164.11" stroke="#000" stroke-width="1.0"/>
<line x1="443.04" y1="164.11" x2="445.24" y2="164.11" stroke="#000" stroke-width="1.2"/>
<rect x="441.94" y="165.92" width="4.40" height="11.08" fill="#000" stroke="none" stroke-width="0" />
<line x1="441.34" y1="177.20" x2="441.34" y2="180.60" stroke="#555555" stroke-width="1.1"/>
<line x1="452.42" y1="154.38" x2="452.42" y2="148.72" stroke="#ff0000" stroke-width="1.0"/>
<line x1="451.32" y1="148.72" x2="453.52" y2="148.72" stroke="#ff0000" stroke-width="1.2"/>
<rect x="450.07" y="154.38" width="4.70" height="22.62" fill="#ff0000" stroke="none" stroke-width="0" />
<line x1="458.17" y1="169.31" x2="458.17" y2="168.40" stroke="#000" stroke-width="1.0"/>
<line x1="457.07" y1="168.40" x2="459.27" y2="168.40" stroke="#000" stroke-width="1.2"/>
<rect x="455.97" y="169.31" width="4.40" height="7.69" fill="#000" stroke="none" stroke-width="0" />
<line x1="455.37" y1="177.20" x2="455.37" y2="180.60" stroke="#555555" stroke-width="1.1"/>
<line x1="466.45" y1="154.38" x2="466.45" y2="147.59" stroke="#ff0000" stroke-width="1.0"/>
<line x1="465.35" y1="147.59" x2="467.55" y2="147.59" stroke="#ff0000" stroke-width="1.2"/>
<rect x="464.10" y="154.38" width="4.70" height="22.62" fill="#ff0000" stroke="none" stroke-width="0" />
<line x1="472.20" y1="172.25" x2="472.20" y2="171.80" stroke="#000" stroke-width="1.0"/>
<line x1="471.10" y1="171.80" x2="473.30" y2="171.80" stroke="#000" stroke-width="1.2"/>
<rect x="470.00" y="172.25" width="4.40" height="4.75" fill="#000" stroke="none" stroke-width="0" />
<line x1="469.40" y1="177.20" x2="469.40" y2="180.60" stroke="#555555" stroke-width="1.1"/>
<line x1="480.48" y1="154.38" x2="480.48" y2="152.34" stroke="#ff0000" stroke-width="1.0"/>
<line x1="479.38" y1="152.34" x2="481.58" y2="152.34" stroke="#ff0000" stroke-width="1.2"/>
<rect x="478.13" y="154.38" width="4.70" height="22.62" fill="#ff0000" stroke="none" stroke-width="0" />
<line x1="486.23" y1="162.30" x2="486.23" y2="158.90" stroke="#000" stroke-width="1.0"/>
<line x1="485.13" y1="158.90" x2="487.33" y2="158.90" stroke="#000" stroke-width="1.2"/>
<rect x="484.03" y="162.30" width="4.40" height="14.70" fill="#000" stroke="none" stroke-width="0" />
<line x1="483.43" y1="177.20" x2="483.43" y2="180.60" stroke="#555555" stroke-width="1.1"/>
<line x1="494.51" y1="154.38" x2="494.51" y2="149.18" stroke="#ff0000" stroke-width="1.0"/>
<line x1="493.41" y1="149.18" x2="495.61" y2="149.18" stroke="#ff0000" stroke-width="1.2"/>
<rect x="492.16" y="154.38" width="4.70" height="22.62" fill="#ff0000" stroke="none" stroke-width="0" />
<line x1="500.26" y1="96.02" x2="500.26" y2="86.75" stroke="#000" stroke-width="1.0"/>
<line x1="499.16" y1="86.75" x2="501.36" y2="86.75" stroke="#000" stroke-width="1.2"/>
<rect x="498.06" y="96.02" width="4.40" height="80.98" fill="#000" stroke="none" stroke-width="0" />
<line x1="497.46" y1="177.20" x2="497.46" y2="180.60" stroke="#555555" stroke-width="1.1"/>
<line x1="508.54" y1="154.38" x2="508.54" y2="149.18" stroke="#ff0000" stroke-width="1.0"/>
<line x1="507.44" y1="149.18" x2="509.64" y2="149.18" stroke="#ff0000" stroke-width="1.2"/>
<rect x="506.19" y="154.38" width="4.70" height="22.62" fill="#ff0000" stroke="none" stroke-width="0" />
<line x1="514.29" y1="105.97" x2="514.29" y2="99.19" stroke="#000" stroke-width="1.0"/>
<line x1="513.19" y1="99.19" x2="515.39" y2="99.19" stroke="#000" stroke-width="1.2"/>
<rect x="512.09" y="105.97" width="4.40" height="71.03" fill="#000" stroke="none" stroke-width="0" />
<line x1="511.49" y1="177.20" x2="511.49" y2="180.60" stroke="#555555" stroke-width="1.1"/>
<text x="0" y="0" font-size="8.5" text-anchor="end" font-family='"Liberation Serif", serif' fill="#1a1a1a" transform="translate(332.30,185.50) rotate(-45)">Glucose</text>
<text x="0" y="0" font-size="8.5" text-anchor="end" font-family='"Liberation Serif", serif' fill="#1a1a1a" transform="translate(346.33,185.50) rotate(-45)">Fructose</text>
<text x="0" y="0" font-size="8.5" text-anchor="end" font-family='"Liberation Serif", serif' fill="#1a1a1a" transform="translate(360.36,185.50) rotate(-45)">Ribitol</text>
<text x="0" y="0" font-size="8.5" text-anchor="end" font-family='"Liberation Serif", serif' fill="#1a1a1a" transform="translate(374.39,185.50) rotate(-45)">Xylitol</text>
<text x="0" y="0" font-size="8.5" text-anchor="end" font-family='"Liberation Serif", serif' fill="#1a1a1a" transform="translate(388.42,185.50) rotate(-45)">G6P</text>
<text x="0" y="0" font-size="8.5" text-anchor="end" font-family='"Liberation Serif", serif' fill="#1a1a1a" transform="translate(402.45,185.50) rotate(-45)">F6P</text>
<text x="0" y="0" font-size="8.5" text-anchor="end" font-family='"Liberation Serif", serif' fill="#1a1a1a" transform="translate(416.48,185.50) rotate(-45)">DHAP</text>
<text x="0" y="0" font-size="8.5" text-anchor="end" font-family='"Liberation Serif", serif' fill="#1a1a1a" transform="translate(430.51,185.50) rotate(-45)">G3P</text>
<text x="0" y="0" font-size="8.5" text-anchor="end" font-family='"Liberation Serif", serif' fill="#1a1a1a" transform="translate(444.54,185.50) rotate(-45)">PEP</text>
<text x="0" y="0" font-size="8.5" text-anchor="end" font-family='"Liberation Serif", serif' fill="#1a1a1a" transform="translate(458.57,185.50) rotate(-45)">Pyruvate</text>
<text x="0" y="0" font-size="8.5" text-anchor="end" font-family='"Liberation Serif", serif' fill="#1a1a1a" transform="translate(471.40,185.50) rotate(-45)">Lactate</text>
<text x="0" y="0" font-size="8.5" text-anchor="end" font-family='"Liberation Serif", serif' fill="#1a1a1a" transform="translate(484.83,185.50) rotate(-45)">S7P</text>
<text x="0" y="0" font-size="8.5" text-anchor="end" font-family='"Liberation Serif", serif' fill="#1a1a1a" transform="translate(498.66,185.50) rotate(-45)">Ru5P/R5P</text>
<text x="0" y="0" font-size="8.5" text-anchor="end" font-family='"Liberation Serif", serif' fill="#1a1a1a" transform="translate(514.69,185.50) rotate(-45)">Xu5P</text>
<line x1="323.80" y1="144.90" x2="333.80" y2="144.90" stroke="#2a2a2a" stroke-width="1.3"/>
<text x="328.80" y="142.30" font-size="9.5" text-anchor="middle" font-family='"Liberation Serif", serif' fill="#1a1a1a" letter-spacing="-0.15">n.s.</text>
<line x1="338.00" y1="148.50" x2="348.00" y2="148.50" stroke="#2a2a2a" stroke-width="1.3"/>
<text x="343.00" y="145.90" font-size="9.5" text-anchor="middle" font-family='"Liberation Serif", serif' fill="#1a1a1a" letter-spacing="-0.15">n.s.</text>
<line x1="351.50" y1="135.40" x2="361.20" y2="135.40" stroke="#2a2a2a" stroke-width="1.3"/>
<circle cx="356.35" cy="130.80" r="1.6" fill="#444"/>
<line x1="366.00" y1="148.50" x2="375.40" y2="148.50" stroke="#2a2a2a" stroke-width="1.3"/>
<text x="370.70" y="145.90" font-size="9.5" text-anchor="middle" font-family='"Liberation Serif", serif' fill="#1a1a1a" letter-spacing="-0.15">n.s.</text>
<line x1="380.50" y1="147.70" x2="390.00" y2="147.70" stroke="#2a2a2a" stroke-width="1.3"/>
<circle cx="382.95" cy="143.10" r="1.6" fill="#444"/>
<circle cx="387.55" cy="143.10" r="1.6" fill="#444"/>
<line x1="394.30" y1="145.10" x2="404.20" y2="145.10" stroke="#2a2a2a" stroke-width="1.3"/>
<circle cx="394.65" cy="140.50" r="1.6" fill="#444"/>
<circle cx="399.25" cy="140.50" r="1.6" fill="#444"/>
<circle cx="403.85" cy="140.50" r="1.6" fill="#444"/>
<line x1="408.20" y1="147.20" x2="418.50" y2="147.20" stroke="#2a2a2a" stroke-width="1.3"/>
<circle cx="411.05" cy="142.60" r="1.6" fill="#444"/>
<circle cx="415.65" cy="142.60" r="1.6" fill="#444"/>
<line x1="424.20" y1="146.60" x2="433.40" y2="146.60" stroke="#2a2a2a" stroke-width="1.3"/>
<circle cx="426.50" cy="142.00" r="1.6" fill="#444"/>
<circle cx="431.10" cy="142.00" r="1.6" fill="#444"/>
<line x1="438.00" y1="146.20" x2="448.20" y2="146.20" stroke="#2a2a2a" stroke-width="1.3"/>
<circle cx="443.10" cy="141.60" r="1.6" fill="#444"/>
<line x1="451.20" y1="145.40" x2="461.10" y2="145.40" stroke="#2a2a2a" stroke-width="1.3"/>
<circle cx="456.15" cy="140.80" r="1.6" fill="#444"/>
<line x1="465.70" y1="143.90" x2="475.40" y2="143.90" stroke="#2a2a2a" stroke-width="1.3"/>
<circle cx="470.55" cy="139.30" r="1.6" fill="#444"/>
<line x1="479.20" y1="150.00" x2="489.20" y2="150.00" stroke="#2a2a2a" stroke-width="1.3"/>
<text x="484.20" y="147.40" font-size="9.5" text-anchor="middle" font-family='"Liberation Serif", serif' fill="#1a1a1a" letter-spacing="-0.15">n.s.</text>
<line x1="491.40" y1="81.50" x2="501.40" y2="81.50" stroke="#2a2a2a" stroke-width="1.3"/>
<circle cx="491.80" cy="76.90" r="1.6" fill="#444"/>
<circle cx="496.40" cy="76.90" r="1.6" fill="#444"/>
<circle cx="501.00" cy="76.90" r="1.6" fill="#444"/>
<line x1="506.20" y1="95.00" x2="516.20" y2="95.00" stroke="#2a2a2a" stroke-width="1.3"/>
<circle cx="506.60" cy="90.40" r="1.6" fill="#444"/>
<circle cx="511.20" cy="90.40" r="1.6" fill="#444"/>
<circle cx="515.80" cy="90.40" r="1.6" fill="#444"/>
<line x1="371.40" y1="216.80" x2="452.30" y2="216.80" stroke="#666" stroke-width="1.5"/>
<line x1="465.50" y1="216.80" x2="501.50" y2="216.80" stroke="#666" stroke-width="1.5"/>
<text x="407.00" y="225.30" font-size="8.5" text-anchor="middle" font-family='"Liberation Serif", serif' fill="#1a1a1a" >Glycolysis</text>
<text x="482.40" y="225.30" font-size="8.5" text-anchor="middle" font-family='"Liberation Serif", serif' fill="#1a1a1a" >PPP</text>
<rect x="481.30" y="33.60" width="7.50" height="3.90" fill="#ff0000" stroke="none" stroke-width="0" />
<text x="490.90" y="38.80" font-size="8.5" text-anchor="start" font-family='"Liberation Serif", serif' fill="#1a1a1a" >WT</text>
<rect x="481.30" y="44.60" width="7.50" height="3.60" fill="#000" stroke="none" stroke-width="0" />
<text x="490.90" y="50.20" font-size="8.5" text-anchor="start" font-family='"Liberation Serif", serif' fill="#1a1a1a">TKT<tspan font-size="5.01" dy="-3.15" letter-spacing="0.4">AKO</tspan></text>
<text class="ns" x="0.9" y="257.00" font-size="15.4" font-weight="bold" font-family='"Liberation Sans", sans-serif' fill="#000">C</text>
<rect x="50.00" y="277.10" width="36.50" height="112.50" fill="#E32228" stroke="none" stroke-width="0" />
<rect x="86.50" y="277.10" width="36.60" height="112.50" fill="#12295C" stroke="none" stroke-width="0" />
<line x1="50.00" y1="293.17" x2="86.30" y2="293.17" stroke="#F0A0A4" stroke-width="1.0"/>
<line x1="86.70" y1="293.17" x2="123.10" y2="293.17" stroke="#8090B0" stroke-width="1.0"/>
<line x1="50.00" y1="309.24" x2="86.30" y2="309.24" stroke="#F0A0A4" stroke-width="1.0"/>
<line x1="86.70" y1="309.24" x2="123.10" y2="309.24" stroke="#8090B0" stroke-width="1.0"/>
<line x1="50.00" y1="325.31" x2="86.30" y2="325.31" stroke="#F0A0A4" stroke-width="1.0"/>
<line x1="86.70" y1="325.31" x2="123.10" y2="325.31" stroke="#8090B0" stroke-width="1.0"/>
<line x1="50.00" y1="341.38" x2="86.30" y2="341.38" stroke="#F0A0A4" stroke-width="1.0"/>
<line x1="86.70" y1="341.38" x2="123.10" y2="341.38" stroke="#8090B0" stroke-width="1.0"/>
<line x1="50.00" y1="357.45" x2="86.30" y2="357.45" stroke="#F0A0A4" stroke-width="1.0"/>
<line x1="86.70" y1="357.45" x2="123.10" y2="357.45" stroke="#8090B0" stroke-width="1.0"/>
<line x1="50.00" y1="373.52" x2="86.30" y2="373.52" stroke="#F0A0A4" stroke-width="1.0"/>
<line x1="86.70" y1="373.52" x2="123.10" y2="373.52" stroke="#8090B0" stroke-width="1.0"/>
<line x1="86.50" y1="277.10" x2="86.50" y2="389.60" stroke="#E8D0D8" stroke-width="0.9"/>
<text x="64.50" y="269.40" font-size="8.5" text-anchor="middle" font-family='"Liberation Serif", serif' fill="#1a1a1a" >WT</text>
<text x="92.30" y="269.40" font-size="8.5" text-anchor="start" font-family='"Liberation Serif", serif' fill="#1a1a1a">TKT<tspan font-size="5.01" dy="-3.15" letter-spacing="0.4">AKO</tspan></text>
<text x="127.00" y="288.50" font-size="8.5" text-anchor="start" font-family='"Liberation Serif", serif' fill="#1a1a1a" >Hk1</text>
<text x="127.00" y="304.30" font-size="8.5" text-anchor="start" font-family='"Liberation Serif", serif' fill="#1a1a1a" >Hk3</text>
<text x="127.00" y="320.00" font-size="8.5" text-anchor="start" font-family='"Liberation Serif", serif' fill="#1a1a1a" >Aldoc</text>
<text x="127.00" y="337.80" font-size="8.5" text-anchor="start" font-family='"Liberation Serif", serif' fill="#1a1a1a" >Pgk1</text>
<text x="127.00" y="352.30" font-size="8.5" text-anchor="start" font-family='"Liberation Serif", serif' fill="#1a1a1a" >Pgam1</text>
<text x="127.00" y="370.80" font-size="8.5" text-anchor="start" font-family='"Liberation Serif", serif' fill="#1a1a1a" >Eno2</text>
<text x="127.00" y="388.60" font-size="8.5" text-anchor="start" font-family='"Liberation Serif", serif' fill="#1a1a1a" >Pkm</text>
<rect x="6.90" y="281.00" width="5.70" height="88.60" fill="url(#cbC)" stroke="none" stroke-width="0" />
<text x="14.60" y="291.70" font-size="8.5" text-anchor="start" font-family='"Liberation Serif", serif' fill="#1a1a1a" >0.6</text>
<text x="14.60" y="304.70" font-size="8.5" text-anchor="start" font-family='"Liberation Serif", serif' fill="#1a1a1a" >0.4</text>
<text x="14.60" y="317.30" font-size="8.5" text-anchor="start" font-family='"Liberation Serif", serif' fill="#1a1a1a" >0.2</text>
<text x="14.60" y="329.40" font-size="8.5" text-anchor="start" font-family='"Liberation Serif", serif' fill="#1a1a1a" >0</text>
<text x="14.60" y="342.10" font-size="8.5" text-anchor="start" font-family='"Liberation Serif", serif' fill="#1a1a1a" >&#8722;0.2</text>
<text x="14.60" y="354.80" font-size="8.5" text-anchor="start" font-family='"Liberation Serif", serif' fill="#1a1a1a" >&#8722;0.4</text>
<text x="14.60" y="367.40" font-size="8.5" text-anchor="start" font-family='"Liberation Serif", serif' fill="#1a1a1a" >&#8722;0.6</text>
<rect x="248.10" y="277.10" width="30.15" height="16.07" fill="#E85050" stroke="#ffffff" stroke-width="1" />
<rect x="278.25" y="277.10" width="30.15" height="16.07" fill="#FCC4C4" stroke="#ffffff" stroke-width="1" />
<rect x="308.40" y="277.10" width="30.15" height="16.07" fill="#FAB4B4" stroke="#ffffff" stroke-width="1" />
<rect x="338.55" y="277.10" width="30.15" height="16.07" fill="#9090C6" stroke="#ffffff" stroke-width="1" />
<rect x="368.70" y="277.10" width="30.15" height="16.07" fill="#5A5AA8" stroke="#ffffff" stroke-width="1" />
<rect x="398.85" y="277.10" width="30.15" height="16.07" fill="#B0B0D6" stroke="#ffffff" stroke-width="1" />
<rect x="248.10" y="293.17" width="30.15" height="16.07" fill="#E64C4C" stroke="#ffffff" stroke-width="1" />
<rect x="278.25" y="293.17" width="30.15" height="16.07" fill="#F8A8AA" stroke="#ffffff" stroke-width="1" />
<rect x="308.40" y="293.17" width="30.15" height="16.07" fill="#FCD0D0" stroke="#ffffff" stroke-width="1" />
<rect x="338.55" y="293.17" width="30.15" height="16.07" fill="#8A8AC4" stroke="#ffffff" stroke-width="1" />
<rect x="368.70" y="293.17" width="30.15" height="16.07" fill="#8C8CC4" stroke="#ffffff" stroke-width="1" />
<rect x="398.85" y="293.17" width="30.15" height="16.07" fill="#8080BE" stroke="#ffffff" stroke-width="1" />
<rect x="248.10" y="309.24" width="30.15" height="16.07" fill="#F07070" stroke="#ffffff" stroke-width="1" />
<rect x="278.25" y="309.24" width="30.15" height="16.07" fill="#EC6262" stroke="#ffffff" stroke-width="1" />
<rect x="308.40" y="309.24" width="30.15" height="16.07" fill="#E8EAF6" stroke="#ffffff" stroke-width="1" />
<rect x="338.55" y="309.24" width="30.15" height="16.07" fill="#9696C8" stroke="#ffffff" stroke-width="1" />
<rect x="368.70" y="309.24" width="30.15" height="16.07" fill="#5454A6" stroke="#ffffff" stroke-width="1" />
<rect x="398.85" y="309.24" width="30.15" height="16.07" fill="#D8D8EC" stroke="#ffffff" stroke-width="1" />
<rect x="248.10" y="325.31" width="30.15" height="16.07" fill="#E43434" stroke="#ffffff" stroke-width="1" />
<rect x="278.25" y="325.31" width="30.15" height="16.07" fill="#F6F4FA" stroke="#ffffff" stroke-width="1" />
<rect x="308.40" y="325.31" width="30.15" height="16.07" fill="#DCDEEE" stroke="#ffffff" stroke-width="1" />
<rect x="338.55" y="325.31" width="30.15" height="16.07" fill="#FCC4C6" stroke="#ffffff" stroke-width="1" />
<rect x="368.70" y="325.31" width="30.15" height="16.07" fill="#8484C0" stroke="#ffffff" stroke-width="1" />
<rect x="398.85" y="325.31" width="30.15" height="16.07" fill="#7070B6" stroke="#ffffff" stroke-width="1" />
<rect x="248.10" y="341.38" width="30.15" height="16.07" fill="#E01E22" stroke="#ffffff" stroke-width="1" />
<rect x="278.25" y="341.38" width="30.15" height="16.07" fill="#DCDEEE" stroke="#ffffff" stroke-width="1" />
<rect x="308.40" y="341.38" width="30.15" height="16.07" fill="#CCD0E8" stroke="#ffffff" stroke-width="1" />
<rect x="338.55" y="341.38" width="30.15" height="16.07" fill="#F6F2F8" stroke="#ffffff" stroke-width="1" />
<rect x="368.70" y="341.38" width="30.15" height="16.07" fill="#DCDEEE" stroke="#ffffff" stroke-width="1" />
<rect x="398.85" y="341.38" width="30.15" height="16.07" fill="#6C6CB4" stroke="#ffffff" stroke-width="1" />
<rect x="248.10" y="357.45" width="30.15" height="16.07" fill="#EE6C6C" stroke="#ffffff" stroke-width="1" />
<rect x="278.25" y="357.45" width="30.15" height="16.07" fill="#F28484" stroke="#ffffff" stroke-width="1" />
<rect x="308.40" y="357.45" width="30.15" height="16.07" fill="#FCC8C8" stroke="#ffffff" stroke-width="1" />
<rect x="338.55" y="357.45" width="30.15" height="16.07" fill="#7070B6" stroke="#ffffff" stroke-width="1" />
<rect x="368.70" y="357.45" width="30.15" height="16.07" fill="#8C8CC6" stroke="#ffffff" stroke-width="1" />
<rect x="398.85" y="357.45" width="30.15" height="16.07" fill="#8484C0" stroke="#ffffff" stroke-width="1" />
<rect x="248.10" y="373.52" width="30.15" height="16.07" fill="#E43232" stroke="#ffffff" stroke-width="1" />
<rect x="278.25" y="373.52" width="30.15" height="16.07" fill="#FDE0E0" stroke="#ffffff" stroke-width="1" />
<rect x="308.40" y="373.52" width="30.15" height="16.07" fill="#FFFCFC" stroke="#ffffff" stroke-width="1" />
<rect x="338.55" y="373.52" width="30.15" height="16.07" fill="#E2E4F2" stroke="#ffffff" stroke-width="1" />
<rect x="368.70" y="373.52" width="30.15" height="16.07" fill="#8484C0" stroke="#ffffff" stroke-width="1" />
<rect x="398.85" y="373.52" width="30.15" height="16.07" fill="#6666B0" stroke="#ffffff" stroke-width="1" />
<line x1="249.20" y1="271.70" x2="335.60" y2="271.70" stroke="#555" stroke-width="1.4"/>
<line x1="340.10" y1="271.20" x2="427.70" y2="271.20" stroke="#555" stroke-width="1.4"/>
<text x="292.90" y="269.40" font-size="8.5" text-anchor="middle" font-family='"Liberation Serif", serif' fill="#1a1a1a" >WT</text>
<text x="370.40" y="269.50" font-size="8.5" text-anchor="start" font-family='"Liberation Serif", serif' fill="#1a1a1a">TKT<tspan font-size="5.01" dy="-3.15" letter-spacing="0.4">FKO</tspan></text>
<text x="432.30" y="287.60" font-size="8.5" text-anchor="start" font-family='"Liberation Serif", serif' fill="#1a1a1a" >Hk1</text>
<text x="432.30" y="303.60" font-size="8.5" text-anchor="start" font-family='"Liberation Serif", serif' fill="#1a1a1a" >Hk3</text>
<text x="432.30" y="319.60" font-size="8.5" text-anchor="start" font-family='"Liberation Serif", serif' fill="#1a1a1a" >Aldoc</text>
<text x="432.30" y="336.80" font-size="8.5" text-anchor="start" font-family='"Liberation Serif", serif' fill="#1a1a1a" >Pgk1</text>
<text x="432.30" y="351.50" font-size="8.5" text-anchor="start" font-family='"Liberation Serif", serif' fill="#1a1a1a" >Pgam1</text>
<text x="432.30" y="370.00" font-size="8.5" text-anchor="start" font-family='"Liberation Serif", serif' fill="#1a1a1a" >Eno2</text>
<text x="432.30" y="387.50" font-size="8.5" text-anchor="start" font-family='"Liberation Serif", serif' fill="#1a1a1a" >Pkm</text>
<rect x="216.70" y="281.20" width="5.60" height="88.40" fill="url(#cbC)" stroke="none" stroke-width="0" />
<text x="225.30" y="291.00" font-size="8.5" text-anchor="start" font-family='"Liberation Serif", serif' fill="#1a1a1a" >1.5</text>
<text x="225.30" y="304.00" font-size="8.5" text-anchor="start" font-family='"Liberation Serif", serif' fill="#1a1a1a" >1</text>
<text x="225.30" y="316.10" font-size="8.5" text-anchor="start" font-family='"Liberation Serif", serif' fill="#1a1a1a" >0.5</text>
<text x="225.30" y="329.00" font-size="8.5" text-anchor="start" font-family='"Liberation Serif", serif' fill="#1a1a1a" >0</text>
<text x="225.30" y="342.00" font-size="8.5" text-anchor="start" font-family='"Liberation Serif", serif' fill="#1a1a1a" >&#8722;0.5</text>
<text x="225.30" y="354.10" font-size="8.5" text-anchor="start" font-family='"Liberation Serif", serif' fill="#1a1a1a" >&#8722;1</text>
<text x="225.30" y="367.00" font-size="8.5" text-anchor="start" font-family='"Liberation Serif", serif' fill="#1a1a1a" >&#8722;1.5</text>
<text class="ns" x="0.7" y="419.60" font-size="15.4" font-weight="bold" font-family='"Liberation Sans", sans-serif' fill="#000">D</text>
<line x1="25.70" y1="445.60" x2="25.70" y2="537.60" stroke="#3a3a3a" stroke-width="1.4"/>
<line x1="22.80" y1="537.00" x2="25.70" y2="537.00" stroke="#3a3a3a" stroke-width="1.2"/>
<text x="21.20" y="539.90" font-size="8.5" text-anchor="end" font-family='"Liberation Serif", serif' fill="#1a1a1a" >0.0</text>
<line x1="22.80" y1="506.75" x2="25.70" y2="506.75" stroke="#3a3a3a" stroke-width="1.2"/>
<text x="21.20" y="509.65" font-size="8.5" text-anchor="end" font-family='"Liberation Serif", serif' fill="#1a1a1a" >0.5</text>
<line x1="22.80" y1="476.50" x2="25.70" y2="476.50" stroke="#3a3a3a" stroke-width="1.2"/>
<text x="21.20" y="479.40" font-size="8.5" text-anchor="end" font-family='"Liberation Serif", serif' fill="#1a1a1a" >1.0</text>
<line x1="22.80" y1="446.25" x2="25.70" y2="446.25" stroke="#3a3a3a" stroke-width="1.2"/>
<text x="21.20" y="449.15" font-size="8.5" text-anchor="end" font-family='"Liberation Serif", serif' fill="#1a1a1a" >1.5</text>
<line x1="24.60" y1="537.00" x2="145.30" y2="537.00" stroke="#3a3a3a" stroke-width="1.4"/>
<text x="0" y="0" font-size="8.9" text-anchor="middle" font-family='"Liberation Serif", serif' fill="#1a1a1a" transform="translate(7.20,490.60) rotate(-90)">Relative mRNA level</text>
<line x1="31.95" y1="476.50" x2="31.95" y2="471.66" stroke="#ff0000" stroke-width="1.0"/>
<line x1="30.75" y1="471.66" x2="33.15" y2="471.66" stroke="#ff0000" stroke-width="1.2"/>
<rect x="29.10" y="476.50" width="5.70" height="60.50" fill="#ff0000" stroke="none" stroke-width="0" />
<line x1="39.50" y1="501.31" x2="39.50" y2="499.49" stroke="#000" stroke-width="1.0"/>
<line x1="38.30" y1="499.49" x2="40.70" y2="499.49" stroke="#000" stroke-width="1.2"/>
<rect x="36.80" y="501.31" width="5.40" height="35.69" fill="#000" stroke="none" stroke-width="0" />
<line x1="35.80" y1="537.00" x2="35.80" y2="540.20" stroke="#555555" stroke-width="1.1"/>
<line x1="30.20" y1="468.50" x2="43.10" y2="468.50" stroke="#2a2a2a" stroke-width="1.1"/>
<circle cx="32.05" cy="464.50" r="1.6" fill="#444"/>
<circle cx="36.65" cy="464.50" r="1.6" fill="#444"/>
<circle cx="41.25" cy="464.50" r="1.6" fill="#444"/>
<text x="0" y="0" font-size="9.2" text-anchor="end" font-family='"Liberation Serif", serif' fill="#1a1a1a" transform="translate(37.80,544.00) rotate(-45)">Hk1</text>
<line x1="51.85" y1="474.69" x2="51.85" y2="468.63" stroke="#ff0000" stroke-width="1.0"/>
<line x1="50.65" y1="468.63" x2="53.05" y2="468.63" stroke="#ff0000" stroke-width="1.2"/>
<rect x="49.00" y="474.69" width="5.70" height="62.31" fill="#ff0000" stroke="none" stroke-width="0" />
<line x1="59.40" y1="530.35" x2="59.40" y2="529.74" stroke="#000" stroke-width="1.0"/>
<line x1="58.20" y1="529.74" x2="60.60" y2="529.74" stroke="#000" stroke-width="1.2"/>
<rect x="56.70" y="530.35" width="5.40" height="6.65" fill="#000" stroke="none" stroke-width="0" />
<line x1="55.70" y1="537.00" x2="55.70" y2="540.20" stroke="#555555" stroke-width="1.1"/>
<line x1="49.90" y1="464.50" x2="63.60" y2="464.50" stroke="#2a2a2a" stroke-width="1.1"/>
<circle cx="52.15" cy="460.50" r="1.6" fill="#444"/>
<circle cx="56.75" cy="460.50" r="1.6" fill="#444"/>
<circle cx="61.35" cy="460.50" r="1.6" fill="#444"/>
<text x="0" y="0" font-size="9.2" text-anchor="end" font-family='"Liberation Serif", serif' fill="#1a1a1a" transform="translate(57.70,544.00) rotate(-45)">Hk3</text>
<line x1="71.75" y1="476.50" x2="71.75" y2="473.48" stroke="#ff0000" stroke-width="1.0"/>
<line x1="70.55" y1="473.48" x2="72.95" y2="473.48" stroke="#ff0000" stroke-width="1.2"/>
<rect x="68.90" y="476.50" width="5.70" height="60.50" fill="#ff0000" stroke="none" stroke-width="0" />
<line x1="79.30" y1="495.86" x2="79.30" y2="492.23" stroke="#000" stroke-width="1.0"/>
<line x1="78.10" y1="492.23" x2="80.50" y2="492.23" stroke="#000" stroke-width="1.2"/>
<rect x="76.60" y="495.86" width="5.40" height="41.14" fill="#000" stroke="none" stroke-width="0" />
<line x1="75.60" y1="537.00" x2="75.60" y2="540.20" stroke="#555555" stroke-width="1.1"/>
<line x1="70.50" y1="468.50" x2="83.50" y2="468.50" stroke="#2a2a2a" stroke-width="1.1"/>
<circle cx="74.70" cy="464.50" r="1.6" fill="#444"/>
<circle cx="79.30" cy="464.50" r="1.6" fill="#444"/>
<text x="0" y="0" font-size="9.2" text-anchor="end" font-family='"Liberation Serif", serif' fill="#1a1a1a" transform="translate(77.60,544.00) rotate(-45)">Pgk1</text>
<line x1="91.65" y1="474.08" x2="91.65" y2="467.43" stroke="#ff0000" stroke-width="1.0"/>
<line x1="90.45" y1="467.43" x2="92.85" y2="467.43" stroke="#ff0000" stroke-width="1.2"/>
<rect x="88.80" y="474.08" width="5.70" height="62.92" fill="#ff0000" stroke="none" stroke-width="0" />
<line x1="99.20" y1="523.69" x2="99.20" y2="522.78" stroke="#000" stroke-width="1.0"/>
<line x1="98.00" y1="522.78" x2="100.40" y2="522.78" stroke="#000" stroke-width="1.2"/>
<rect x="96.50" y="523.69" width="5.40" height="13.31" fill="#000" stroke="none" stroke-width="0" />
<line x1="95.50" y1="537.00" x2="95.50" y2="540.20" stroke="#555555" stroke-width="1.1"/>
<line x1="90.00" y1="464.00" x2="103.60" y2="464.00" stroke="#2a2a2a" stroke-width="1.1"/>
<circle cx="92.20" cy="460.00" r="1.6" fill="#444"/>
<circle cx="96.80" cy="460.00" r="1.6" fill="#444"/>
<circle cx="101.40" cy="460.00" r="1.6" fill="#444"/>
<text x="0" y="0" font-size="9.2" text-anchor="end" font-family='"Liberation Serif", serif' fill="#1a1a1a" transform="translate(97.50,544.00) rotate(-45)">Aldoc</text>
<line x1="111.55" y1="476.50" x2="111.55" y2="471.66" stroke="#ff0000" stroke-width="1.0"/>
<line x1="110.35" y1="471.66" x2="112.75" y2="471.66" stroke="#ff0000" stroke-width="1.2"/>
<rect x="108.70" y="476.50" width="5.70" height="60.50" fill="#ff0000" stroke="none" stroke-width="0" />
<line x1="119.10" y1="489.81" x2="119.10" y2="486.18" stroke="#000" stroke-width="1.0"/>
<line x1="117.90" y1="486.18" x2="120.30" y2="486.18" stroke="#000" stroke-width="1.2"/>
<rect x="116.40" y="489.81" width="5.40" height="47.19" fill="#000" stroke="none" stroke-width="0" />
<line x1="115.40" y1="537.00" x2="115.40" y2="540.20" stroke="#555555" stroke-width="1.1"/>
<line x1="110.00" y1="466.70" x2="123.60" y2="466.70" stroke="#2a2a2a" stroke-width="1.1"/>
<circle cx="116.80" cy="462.70" r="1.6" fill="#444"/>
<text x="0" y="0" font-size="9.2" text-anchor="end" font-family='"Liberation Serif", serif' fill="#1a1a1a" transform="translate(117.40,544.00) rotate(-45)">Pgam1</text>
<line x1="131.45" y1="475.29" x2="131.45" y2="469.24" stroke="#ff0000" stroke-width="1.0"/>
<line x1="130.25" y1="469.24" x2="132.65" y2="469.24" stroke="#ff0000" stroke-width="1.2"/>
<rect x="128.60" y="475.29" width="5.70" height="61.71" fill="#ff0000" stroke="none" stroke-width="0" />
<line x1="139.00" y1="502.51" x2="139.00" y2="498.88" stroke="#000" stroke-width="1.0"/>
<line x1="137.80" y1="498.88" x2="140.20" y2="498.88" stroke="#000" stroke-width="1.2"/>
<rect x="136.30" y="502.51" width="5.40" height="34.49" fill="#000" stroke="none" stroke-width="0" />
<line x1="135.30" y1="537.00" x2="135.30" y2="540.20" stroke="#555555" stroke-width="1.1"/>
<line x1="130.80" y1="464.50" x2="144.40" y2="464.50" stroke="#2a2a2a" stroke-width="1.1"/>
<circle cx="135.30" cy="460.50" r="1.6" fill="#444"/>
<circle cx="139.90" cy="460.50" r="1.6" fill="#444"/>
<text x="0" y="0" font-size="9.2" text-anchor="end" font-family='"Liberation Serif", serif' fill="#1a1a1a" transform="translate(137.30,544.00) rotate(-45)">Pkm2</text>
<rect x="124.20" y="424.20" width="9.00" height="4.40" fill="#ff0000" stroke="none" stroke-width="0" />
<text x="136.30" y="429.40" font-size="8.5" text-anchor="start" font-family='"Liberation Serif", serif' fill="#1a1a1a" >WT</text>
<rect x="124.20" y="436.10" width="9.00" height="4.50" fill="#000" stroke="none" stroke-width="0" />
<text x="136.30" y="442.90" font-size="8.5" text-anchor="start" font-family='"Liberation Serif", serif' fill="#1a1a1a">TKT<tspan font-size="5.01" dy="-3.15" letter-spacing="0.4">AKO</tspan></text>
<text class="ns" x="188.0" y="425.20" font-size="15.4" font-weight="bold" font-family='"Liberation Sans", sans-serif' fill="#000">E</text>
<line x1="240.00" y1="462.90" x2="240.00" y2="537.00" stroke="#3a3a3a" stroke-width="1.3"/>
<line x1="237.40" y1="536.40" x2="240.00" y2="536.40" stroke="#555555" stroke-width="1.1"/>
<text x="236.60" y="539.30" font-size="8.2" text-anchor="end" font-family='"Liberation Serif", serif' fill="#1a1a1a" >0</text>
<line x1="237.40" y1="512.07" x2="240.00" y2="512.07" stroke="#555555" stroke-width="1.1"/>
<text x="236.60" y="514.97" font-size="8.2" text-anchor="end" font-family='"Liberation Serif", serif' fill="#1a1a1a" >500</text>
<line x1="237.40" y1="487.73" x2="240.00" y2="487.73" stroke="#555555" stroke-width="1.1"/>
<text x="236.60" y="490.63" font-size="8.2" text-anchor="end" font-family='"Liberation Serif", serif' fill="#1a1a1a" >1000</text>
<line x1="237.40" y1="463.40" x2="240.00" y2="463.40" stroke="#555555" stroke-width="1.1"/>
<text x="236.60" y="466.30" font-size="8.2" text-anchor="end" font-family='"Liberation Serif", serif' fill="#1a1a1a" >1500</text>
<line x1="239.40" y1="536.40" x2="327.60" y2="536.40" stroke="#3a3a3a" stroke-width="1.3"/>
<line x1="251.00" y1="536.40" x2="251.00" y2="539.20" stroke="#555555" stroke-width="1.0"/>
<line x1="273.00" y1="536.40" x2="273.00" y2="539.20" stroke="#555555" stroke-width="1.0"/>
<line x1="294.80" y1="536.40" x2="294.80" y2="539.20" stroke="#555555" stroke-width="1.0"/>
<line x1="316.50" y1="536.40" x2="316.50" y2="539.20" stroke="#555555" stroke-width="1.0"/>
<rect x="244.85" y="520.00" width="5.10" height="16.40" fill="none" stroke="#ff2020" stroke-width="0.9"/>
<rect x="252.85" y="514.00" width="4.60" height="22.40" fill="none" stroke="#1a1a1a" stroke-width="0.9"/>
<rect x="266.25" y="505.50" width="5.00" height="30.90" fill="none" stroke="#ff2020" stroke-width="0.9"/>
<rect x="274.75" y="491.50" width="4.40" height="44.90" fill="none" stroke="#1a1a1a" stroke-width="0.9"/>
<rect x="287.65" y="521.50" width="5.20" height="14.90" fill="none" stroke="#ff2020" stroke-width="0.9"/>
<rect x="296.55" y="520.00" width="5.10" height="16.40" fill="none" stroke="#1a1a1a" stroke-width="0.9"/>
<rect x="309.75" y="511.00" width="5.60" height="25.40" fill="none" stroke="#ff2020" stroke-width="0.9"/>
<rect x="318.25" y="505.50" width="4.90" height="30.90" fill="none" stroke="#1a1a1a" stroke-width="0.9"/>
<line x1="277.00" y1="491.50" x2="277.00" y2="484.60" stroke="#1a1a1a" stroke-width="0.9"/>
<line x1="275.90" y1="484.60" x2="278.10" y2="484.60" stroke="#1a1a1a" stroke-width="1.0"/>
<line x1="320.70" y1="505.50" x2="320.70" y2="502.30" stroke="#1a1a1a" stroke-width="0.9"/>
<line x1="319.60" y1="502.30" x2="321.80" y2="502.30" stroke="#1a1a1a" stroke-width="1.0"/>
<line x1="255.10" y1="514.00" x2="255.10" y2="511.60" stroke="#1a1a1a" stroke-width="0.9"/>
<line x1="254.00" y1="511.60" x2="256.20" y2="511.60" stroke="#1a1a1a" stroke-width="1.0"/>
<line x1="247.40" y1="520.00" x2="247.40" y2="517.30" stroke="#ff2020" stroke-width="0.9"/>
<line x1="246.30" y1="517.30" x2="248.50" y2="517.30" stroke="#ff2020" stroke-width="1.0"/>
<line x1="268.70" y1="505.50" x2="268.70" y2="503.30" stroke="#ff2020" stroke-width="0.9"/>
<line x1="267.60" y1="503.30" x2="269.80" y2="503.30" stroke="#ff2020" stroke-width="1.0"/>
<line x1="290.20" y1="521.50" x2="290.20" y2="519.50" stroke="#ff2020" stroke-width="0.9"/>
<line x1="289.10" y1="519.50" x2="291.30" y2="519.50" stroke="#ff2020" stroke-width="1.0"/>
<line x1="299.10" y1="520.00" x2="299.10" y2="517.20" stroke="#1a1a1a" stroke-width="0.9"/>
<line x1="298.00" y1="517.20" x2="300.20" y2="517.20" stroke="#1a1a1a" stroke-width="1.0"/>
<line x1="312.50" y1="511.00" x2="312.50" y2="508.80" stroke="#ff2020" stroke-width="0.9"/>
<line x1="311.40" y1="508.80" x2="313.60" y2="508.80" stroke="#ff2020" stroke-width="1.0"/>
<line x1="243.90" y1="504.70" x2="258.40" y2="504.70" stroke="#2a2a2a" stroke-width="1.1"/>
<circle cx="248.85" cy="500.10" r="1.6" fill="#444"/>
<circle cx="253.45" cy="500.10" r="1.6" fill="#444"/>
<line x1="264.60" y1="481.60" x2="278.10" y2="481.60" stroke="#2a2a2a" stroke-width="1.1"/>
<circle cx="269.05" cy="477.00" r="1.6" fill="#444"/>
<circle cx="273.65" cy="477.00" r="1.6" fill="#444"/>
<line x1="286.20" y1="510.80" x2="300.80" y2="510.80" stroke="#2a2a2a" stroke-width="1.1"/>
<text x="293.50" y="508.20" font-size="9.5" text-anchor="middle" font-family='"Liberation Serif", serif' fill="#1a1a1a" letter-spacing="-0.15">n.s.</text>
<line x1="307.20" y1="486.90" x2="321.60" y2="486.90" stroke="#2a2a2a" stroke-width="1.1"/>
<text x="314.40" y="484.30" font-size="9.5" text-anchor="middle" font-family='"Liberation Serif", serif' fill="#1a1a1a" letter-spacing="-0.15">n.s.</text>
<circle cx="247.50" cy="516.10" r="1.65" fill="none" stroke="#ff2020" stroke-width="0.9"/>
<circle cx="246.50" cy="518.30" r="1.65" fill="none" stroke="#ff2020" stroke-width="0.9"/>
<circle cx="245.30" cy="520.30" r="1.65" fill="none" stroke="#ff2020" stroke-width="0.9"/>
<circle cx="249.40" cy="521.50" r="1.65" fill="none" stroke="#ff2020" stroke-width="0.9"/>
<circle cx="245.80" cy="522.90" r="1.65" fill="none" stroke="#ff2020" stroke-width="0.9"/>
<circle cx="246.10" cy="525.40" r="1.65" fill="none" stroke="#ff2020" stroke-width="0.9"/>
<circle cx="252.90" cy="510.60" r="1.65" fill="none" stroke="#1a1a1a" stroke-width="0.9"/>
<circle cx="256.60" cy="511.10" r="1.65" fill="none" stroke="#1a1a1a" stroke-width="0.9"/>
<circle cx="254.80" cy="513.00" r="1.65" fill="none" stroke="#1a1a1a" stroke-width="0.9"/>
<circle cx="257.00" cy="514.10" r="1.65" fill="none" stroke="#1a1a1a" stroke-width="0.9"/>
<circle cx="253.50" cy="515.50" r="1.65" fill="none" stroke="#1a1a1a" stroke-width="0.9"/>
<circle cx="255.50" cy="516.60" r="1.65" fill="none" stroke="#1a1a1a" stroke-width="0.9"/>
<circle cx="255.00" cy="517.90" r="1.65" fill="none" stroke="#1a1a1a" stroke-width="0.9"/>
<circle cx="268.70" cy="501.50" r="1.65" fill="none" stroke="#ff2020" stroke-width="0.9"/>
<circle cx="266.80" cy="505.00" r="1.65" fill="none" stroke="#ff2020" stroke-width="0.9"/>
<circle cx="269.00" cy="504.40" r="1.65" fill="none" stroke="#ff2020" stroke-width="0.9"/>
<circle cx="271.30" cy="504.70" r="1.65" fill="none" stroke="#ff2020" stroke-width="0.9"/>
<circle cx="267.90" cy="506.30" r="1.65" fill="none" stroke="#ff2020" stroke-width="0.9"/>
<circle cx="270.20" cy="506.40" r="1.65" fill="none" stroke="#ff2020" stroke-width="0.9"/>
<circle cx="277.00" cy="485.40" r="1.65" fill="none" stroke="#1a1a1a" stroke-width="0.9"/>
<circle cx="277.00" cy="487.40" r="1.65" fill="none" stroke="#1a1a1a" stroke-width="0.9"/>
<circle cx="277.00" cy="489.00" r="1.65" fill="none" stroke="#1a1a1a" stroke-width="0.9"/>
<circle cx="277.00" cy="490.20" r="1.65" fill="none" stroke="#1a1a1a" stroke-width="0.9"/>
<circle cx="279.20" cy="495.90" r="1.65" fill="none" stroke="#1a1a1a" stroke-width="0.9"/>
<circle cx="275.80" cy="500.00" r="1.65" fill="none" stroke="#1a1a1a" stroke-width="0.9"/>
<circle cx="288.40" cy="518.40" r="1.65" fill="none" stroke="#ff2020" stroke-width="0.9"/>
<circle cx="292.10" cy="519.70" r="1.65" fill="none" stroke="#ff2020" stroke-width="0.9"/>
<circle cx="290.50" cy="521.40" r="1.65" fill="none" stroke="#ff2020" stroke-width="0.9"/>
<circle cx="289.20" cy="522.70" r="1.65" fill="none" stroke="#ff2020" stroke-width="0.9"/>
<circle cx="291.80" cy="523.50" r="1.65" fill="none" stroke="#ff2020" stroke-width="0.9"/>
<circle cx="290.50" cy="525.70" r="1.65" fill="none" stroke="#ff2020" stroke-width="0.9"/>
<circle cx="299.50" cy="516.20" r="1.65" fill="none" stroke="#1a1a1a" stroke-width="0.9"/>
<circle cx="298.20" cy="517.90" r="1.65" fill="none" stroke="#1a1a1a" stroke-width="0.9"/>
<circle cx="299.10" cy="519.20" r="1.65" fill="none" stroke="#1a1a1a" stroke-width="0.9"/>
<circle cx="296.90" cy="521.40" r="1.65" fill="none" stroke="#1a1a1a" stroke-width="0.9"/>
<circle cx="301.60" cy="521.80" r="1.65" fill="none" stroke="#1a1a1a" stroke-width="0.9"/>
<circle cx="298.20" cy="522.20" r="1.65" fill="none" stroke="#1a1a1a" stroke-width="0.9"/>
<circle cx="297.40" cy="524.40" r="1.65" fill="none" stroke="#1a1a1a" stroke-width="0.9"/>
<circle cx="312.80" cy="507.70" r="1.65" fill="none" stroke="#ff2020" stroke-width="0.9"/>
<circle cx="311.50" cy="511.10" r="1.65" fill="none" stroke="#ff2020" stroke-width="0.9"/>
<circle cx="314.50" cy="514.10" r="1.65" fill="none" stroke="#ff2020" stroke-width="0.9"/>
<circle cx="310.70" cy="515.40" r="1.65" fill="none" stroke="#ff2020" stroke-width="0.9"/>
<circle cx="313.20" cy="516.70" r="1.65" fill="none" stroke="#ff2020" stroke-width="0.9"/>
<circle cx="311.00" cy="518.00" r="1.65" fill="none" stroke="#ff2020" stroke-width="0.9"/>
<circle cx="321.00" cy="492.50" r="1.65" fill="none" stroke="#1a1a1a" stroke-width="0.9"/>
<circle cx="320.60" cy="505.90" r="1.65" fill="none" stroke="#1a1a1a" stroke-width="0.9"/>
<circle cx="320.10" cy="508.10" r="1.65" fill="none" stroke="#1a1a1a" stroke-width="0.9"/>
<circle cx="321.00" cy="509.80" r="1.65" fill="none" stroke="#1a1a1a" stroke-width="0.9"/>
<circle cx="319.40" cy="511.50" r="1.65" fill="none" stroke="#1a1a1a" stroke-width="0.9"/>
<circle cx="321.00" cy="512.40" r="1.65" fill="none" stroke="#1a1a1a" stroke-width="0.9"/>
<text x="0" y="0" font-size="8.5" text-anchor="middle" font-family='"Liberation Serif", serif' fill="#1a1a1a" transform="translate(201.90,499.00) rotate(-90)">Glycerol</text>
<text x="0" y="0" font-size="8.5" text-anchor="middle" font-family='"Liberation Serif", serif' fill="#1a1a1a" transform="translate(212.90,500.90) rotate(-90)">(nmol/100 mg tissue)</text>
<line x1="388.40" y1="461.60" x2="388.40" y2="536.80" stroke="#3a3a3a" stroke-width="1.3"/>
<line x1="385.80" y1="536.20" x2="388.40" y2="536.20" stroke="#555555" stroke-width="1.1"/>
<text x="385.00" y="539.10" font-size="8.2" text-anchor="end" font-family='"Liberation Serif", serif' fill="#1a1a1a" >0</text>
<line x1="385.80" y1="511.50" x2="388.40" y2="511.50" stroke="#555555" stroke-width="1.1"/>
<text x="385.00" y="514.40" font-size="8.2" text-anchor="end" font-family='"Liberation Serif", serif' fill="#1a1a1a" >500</text>
<line x1="385.80" y1="486.80" x2="388.40" y2="486.80" stroke="#555555" stroke-width="1.1"/>
<text x="385.00" y="489.70" font-size="8.2" text-anchor="end" font-family='"Liberation Serif", serif' fill="#1a1a1a" >1000</text>
<line x1="385.80" y1="462.10" x2="388.40" y2="462.10" stroke="#555555" stroke-width="1.1"/>
<text x="385.00" y="465.00" font-size="8.2" text-anchor="end" font-family='"Liberation Serif", serif' fill="#1a1a1a" >1500</text>
<line x1="387.80" y1="536.20" x2="477.20" y2="536.20" stroke="#3a3a3a" stroke-width="1.3"/>
<line x1="400.00" y1="536.20" x2="400.00" y2="539.00" stroke="#555555" stroke-width="1.0"/>
<line x1="421.80" y1="536.20" x2="421.80" y2="539.00" stroke="#555555" stroke-width="1.0"/>
<line x1="443.60" y1="536.20" x2="443.60" y2="539.00" stroke="#555555" stroke-width="1.0"/>
<line x1="465.40" y1="536.20" x2="465.40" y2="539.00" stroke="#555555" stroke-width="1.0"/>
<rect x="393.95" y="504.00" width="5.00" height="32.20" fill="none" stroke="#ff2020" stroke-width="0.9"/>
<rect x="401.75" y="495.50" width="4.80" height="40.70" fill="none" stroke="#1a1a1a" stroke-width="0.9"/>
<rect x="414.95" y="489.50" width="5.40" height="46.70" fill="none" stroke="#ff2020" stroke-width="0.9"/>
<rect x="423.45" y="476.30" width="5.00" height="59.90" fill="none" stroke="#1a1a1a" stroke-width="0.9"/>
<rect x="436.65" y="510.50" width="5.20" height="25.70" fill="none" stroke="#ff2020" stroke-width="0.9"/>
<rect x="445.45" y="505.00" width="5.10" height="31.20" fill="none" stroke="#1a1a1a" stroke-width="0.9"/>
<rect x="458.75" y="495.00" width="5.00" height="41.20" fill="none" stroke="#ff2020" stroke-width="0.9"/>
<rect x="467.25" y="489.40" width="4.80" height="46.80" fill="none" stroke="#1a1a1a" stroke-width="0.9"/>
<line x1="417.60" y1="489.50" x2="417.60" y2="486.60" stroke="#ff2020" stroke-width="0.9"/>
<line x1="416.50" y1="486.60" x2="418.70" y2="486.60" stroke="#ff2020" stroke-width="1.0"/>
<line x1="426.00" y1="476.30" x2="426.00" y2="471.80" stroke="#1a1a1a" stroke-width="0.9"/>
<line x1="424.90" y1="471.80" x2="427.10" y2="471.80" stroke="#1a1a1a" stroke-width="1.0"/>
<line x1="396.40" y1="504.00" x2="396.40" y2="501.00" stroke="#ff2020" stroke-width="0.9"/>
<line x1="395.30" y1="501.00" x2="397.50" y2="501.00" stroke="#ff2020" stroke-width="1.0"/>
<line x1="404.10" y1="495.50" x2="404.10" y2="493.00" stroke="#1a1a1a" stroke-width="0.9"/>
<line x1="403.00" y1="493.00" x2="405.20" y2="493.00" stroke="#1a1a1a" stroke-width="1.0"/>
<line x1="439.20" y1="510.50" x2="439.20" y2="508.80" stroke="#ff2020" stroke-width="0.9"/>
<line x1="438.10" y1="508.80" x2="440.30" y2="508.80" stroke="#ff2020" stroke-width="1.0"/>
<line x1="448.00" y1="505.00" x2="448.00" y2="502.50" stroke="#1a1a1a" stroke-width="0.9"/>
<line x1="446.90" y1="502.50" x2="449.10" y2="502.50" stroke="#1a1a1a" stroke-width="1.0"/>
<line x1="461.20" y1="495.00" x2="461.20" y2="492.30" stroke="#ff2020" stroke-width="0.9"/>
<line x1="460.10" y1="492.30" x2="462.30" y2="492.30" stroke="#ff2020" stroke-width="1.0"/>
<line x1="469.60" y1="489.40" x2="469.60" y2="486.40" stroke="#1a1a1a" stroke-width="0.9"/>
<line x1="468.50" y1="486.40" x2="470.70" y2="486.40" stroke="#1a1a1a" stroke-width="1.0"/>
<line x1="391.80" y1="481.60" x2="405.60" y2="481.60" stroke="#2a2a2a" stroke-width="1.1"/>
<circle cx="396.40" cy="477.00" r="1.6" fill="#444"/>
<circle cx="401.00" cy="477.00" r="1.6" fill="#444"/>
<line x1="414.00" y1="456.50" x2="427.10" y2="456.50" stroke="#2a2a2a" stroke-width="1.1"/>
<circle cx="420.55" cy="451.90" r="1.6" fill="#444"/>
<line x1="435.90" y1="497.30" x2="449.80" y2="497.30" stroke="#2a2a2a" stroke-width="1.1"/>
<text x="442.85" y="494.70" font-size="9.5" text-anchor="middle" font-family='"Liberation Serif", serif' fill="#1a1a1a" letter-spacing="-0.15">n.s.</text>
<line x1="458.30" y1="471.20" x2="471.60" y2="471.20" stroke="#2a2a2a" stroke-width="1.1"/>
<text x="464.95" y="468.60" font-size="9.5" text-anchor="middle" font-family='"Liberation Serif", serif' fill="#1a1a1a" letter-spacing="-0.15">n.s.</text>
<circle cx="395.90" cy="500.20" r="1.65" fill="none" stroke="#ff2020" stroke-width="0.9"/>
<circle cx="393.60" cy="503.70" r="1.65" fill="none" stroke="#ff2020" stroke-width="0.9"/>
<circle cx="397.30" cy="504.70" r="1.65" fill="none" stroke="#ff2020" stroke-width="0.9"/>
<circle cx="398.30" cy="508.90" r="1.65" fill="none" stroke="#ff2020" stroke-width="0.9"/>
<circle cx="394.90" cy="512.70" r="1.65" fill="none" stroke="#ff2020" stroke-width="0.9"/>
<circle cx="395.20" cy="506.80" r="1.65" fill="none" stroke="#ff2020" stroke-width="0.9"/>
<circle cx="404.20" cy="487.40" r="1.65" fill="none" stroke="#1a1a1a" stroke-width="0.9"/>
<circle cx="403.90" cy="492.60" r="1.65" fill="none" stroke="#1a1a1a" stroke-width="0.9"/>
<circle cx="402.80" cy="495.70" r="1.65" fill="none" stroke="#1a1a1a" stroke-width="0.9"/>
<circle cx="405.90" cy="497.10" r="1.65" fill="none" stroke="#1a1a1a" stroke-width="0.9"/>
<circle cx="403.50" cy="498.20" r="1.65" fill="none" stroke="#1a1a1a" stroke-width="0.9"/>
<circle cx="404.60" cy="500.60" r="1.65" fill="none" stroke="#1a1a1a" stroke-width="0.9"/>
<circle cx="417.60" cy="476.80" r="1.65" fill="none" stroke="#ff2020" stroke-width="0.9"/>
<circle cx="415.80" cy="490.70" r="1.65" fill="none" stroke="#ff2020" stroke-width="0.9"/>
<circle cx="419.00" cy="491.10" r="1.65" fill="none" stroke="#ff2020" stroke-width="0.9"/>
<circle cx="416.70" cy="493.40" r="1.65" fill="none" stroke="#ff2020" stroke-width="0.9"/>
<circle cx="419.00" cy="494.70" r="1.65" fill="none" stroke="#ff2020" stroke-width="0.9"/>
<circle cx="417.20" cy="497.00" r="1.65" fill="none" stroke="#ff2020" stroke-width="0.9"/>
<circle cx="426.00" cy="462.80" r="1.65" fill="none" stroke="#1a1a1a" stroke-width="0.9"/>
<circle cx="424.80" cy="475.00" r="1.65" fill="none" stroke="#1a1a1a" stroke-width="0.9"/>
<circle cx="427.10" cy="475.40" r="1.65" fill="none" stroke="#1a1a1a" stroke-width="0.9"/>
<circle cx="425.70" cy="477.20" r="1.65" fill="none" stroke="#1a1a1a" stroke-width="0.9"/>
<circle cx="426.00" cy="486.20" r="1.65" fill="none" stroke="#1a1a1a" stroke-width="0.9"/>
<circle cx="437.40" cy="506.00" r="1.65" fill="none" stroke="#ff2020" stroke-width="0.9"/>
<circle cx="441.10" cy="509.70" r="1.65" fill="none" stroke="#ff2020" stroke-width="0.9"/>
<circle cx="438.70" cy="510.90" r="1.65" fill="none" stroke="#ff2020" stroke-width="0.9"/>
<circle cx="439.90" cy="512.10" r="1.65" fill="none" stroke="#ff2020" stroke-width="0.9"/>
<circle cx="437.70" cy="512.70" r="1.65" fill="none" stroke="#ff2020" stroke-width="0.9"/>
<circle cx="439.60" cy="515.40" r="1.65" fill="none" stroke="#ff2020" stroke-width="0.9"/>
<circle cx="448.00" cy="500.90" r="1.65" fill="none" stroke="#1a1a1a" stroke-width="0.9"/>
<circle cx="445.60" cy="503.90" r="1.65" fill="none" stroke="#1a1a1a" stroke-width="0.9"/>
<circle cx="447.40" cy="505.40" r="1.65" fill="none" stroke="#1a1a1a" stroke-width="0.9"/>
<circle cx="450.00" cy="507.20" r="1.65" fill="none" stroke="#1a1a1a" stroke-width="0.9"/>
<circle cx="448.60" cy="506.30" r="1.65" fill="none" stroke="#1a1a1a" stroke-width="0.9"/>
<circle cx="446.50" cy="510.90" r="1.65" fill="none" stroke="#1a1a1a" stroke-width="0.9"/>
<circle cx="461.10" cy="488.00" r="1.65" fill="none" stroke="#ff2020" stroke-width="0.9"/>
<circle cx="459.30" cy="495.60" r="1.65" fill="none" stroke="#ff2020" stroke-width="0.9"/>
<circle cx="462.10" cy="494.60" r="1.65" fill="none" stroke="#ff2020" stroke-width="0.9"/>
<circle cx="462.50" cy="500.30" r="1.65" fill="none" stroke="#ff2020" stroke-width="0.9"/>
<circle cx="461.10" cy="505.50" r="1.65" fill="none" stroke="#ff2020" stroke-width="0.9"/>
<circle cx="460.00" cy="497.00" r="1.65" fill="none" stroke="#ff2020" stroke-width="0.9"/>
<circle cx="469.70" cy="477.10" r="1.65" fill="none" stroke="#1a1a1a" stroke-width="0.9"/>
<circle cx="472.00" cy="488.00" r="1.65" fill="none" stroke="#1a1a1a" stroke-width="0.9"/>
<circle cx="469.20" cy="488.90" r="1.65" fill="none" stroke="#1a1a1a" stroke-width="0.9"/>
<circle cx="468.30" cy="491.30" r="1.65" fill="none" stroke="#1a1a1a" stroke-width="0.9"/>
<circle cx="469.70" cy="496.50" r="1.65" fill="none" stroke="#1a1a1a" stroke-width="0.9"/>
<circle cx="469.70" cy="501.70" r="1.65" fill="none" stroke="#1a1a1a" stroke-width="0.9"/>
<text x="0" y="0" font-size="8.5" text-anchor="middle" font-family='"Liberation Serif", serif' fill="#1a1a1a" transform="translate(350.60,502.40) rotate(-90)">FFA</text>
<text x="0" y="0" font-size="8.5" text-anchor="middle" font-family='"Liberation Serif", serif' fill="#1a1a1a" transform="translate(361.40,500.90) rotate(-90)">(nmol/100 mg tissue)</text>
<text class="ss" x="0" y="0" font-size="8.9" text-anchor="end" font-family='"Liberation Sans", sans-serif' fill="#111" letter-spacing="0" transform="translate(234.20,554.20) scale(0.88,1)">ISO</text>
<text class="ss" x="0" y="0" font-size="8.9" text-anchor="start" font-family='"Liberation Sans", sans-serif' fill="#111" letter-spacing="0" transform="translate(204.60,566.60) scale(0.88,1)">Sodium</text>
<text class="ss" x="0" y="0" font-size="8.9" text-anchor="start" font-family='"Liberation Sans", sans-serif' fill="#111" letter-spacing="0" transform="translate(204.60,576.20) scale(0.88,1)">pyruvate</text>
<text class="ss" x="0" y="0" font-size="8.6" text-anchor="middle" font-family='"Liberation Sans", sans-serif' fill="#333" letter-spacing="0" transform="translate(249.60,553.60) scale(1.0,1)">-</text>
<text class="ss" x="0" y="0" font-size="8.6" text-anchor="middle" font-family='"Liberation Sans", sans-serif' fill="#333" letter-spacing="0" transform="translate(249.60,570.80) scale(1.0,1)">-</text>
<text class="ss" x="0" y="0" font-size="8.6" text-anchor="middle" font-family='"Liberation Sans", sans-serif' fill="#333" letter-spacing="0" transform="translate(271.80,553.60) scale(1.0,1)">+</text>
<text class="ss" x="0" y="0" font-size="8.6" text-anchor="middle" font-family='"Liberation Sans", sans-serif' fill="#333" letter-spacing="0" transform="translate(271.80,570.80) scale(1.0,1)">-</text>
<text class="ss" x="0" y="0" font-size="8.6" text-anchor="middle" font-family='"Liberation Sans", sans-serif' fill="#333" letter-spacing="0" transform="translate(294.20,553.60) scale(1.0,1)">-</text>
<text class="ss" x="0" y="0" font-size="8.6" text-anchor="middle" font-family='"Liberation Sans", sans-serif' fill="#333" letter-spacing="0" transform="translate(294.20,570.80) scale(1.0,1)">+</text>
<text class="ss" x="0" y="0" font-size="8.6" text-anchor="middle" font-family='"Liberation Sans", sans-serif' fill="#333" letter-spacing="0" transform="translate(316.10,553.60) scale(1.0,1)">+</text>
<text class="ss" x="0" y="0" font-size="8.6" text-anchor="middle" font-family='"Liberation Sans", sans-serif' fill="#333" letter-spacing="0" transform="translate(316.10,570.80) scale(1.0,1)">+</text>
<text class="ss" x="0" y="0" font-size="8.9" text-anchor="end" font-family='"Liberation Sans", sans-serif' fill="#111" letter-spacing="0" transform="translate(387.60,554.20) scale(0.88,1)">ISO</text>
<text class="ss" x="0" y="0" font-size="8.9" text-anchor="start" font-family='"Liberation Sans", sans-serif' fill="#111" letter-spacing="0" transform="translate(358.70,566.60) scale(0.88,1)">Sodium</text>
<text class="ss" x="0" y="0" font-size="8.9" text-anchor="start" font-family='"Liberation Sans", sans-serif' fill="#111" letter-spacing="0" transform="translate(358.70,576.20) scale(0.88,1)">pyruvate</text>
<text class="ss" x="0" y="0" font-size="8.6" text-anchor="middle" font-family='"Liberation Sans", sans-serif' fill="#333" letter-spacing="0" transform="translate(399.30,553.60) scale(1.0,1)">-</text>
<text class="ss" x="0" y="0" font-size="8.6" text-anchor="middle" font-family='"Liberation Sans", sans-serif' fill="#333" letter-spacing="0" transform="translate(399.30,570.80) scale(1.0,1)">-</text>
<text class="ss" x="0" y="0" font-size="8.6" text-anchor="middle" font-family='"Liberation Sans", sans-serif' fill="#333" letter-spacing="0" transform="translate(421.90,553.60) scale(1.0,1)">+</text>
<text class="ss" x="0" y="0" font-size="8.6" text-anchor="middle" font-family='"Liberation Sans", sans-serif' fill="#333" letter-spacing="0" transform="translate(421.90,570.80) scale(1.0,1)">-</text>
<text class="ss" x="0" y="0" font-size="8.6" text-anchor="middle" font-family='"Liberation Sans", sans-serif' fill="#333" letter-spacing="0" transform="translate(444.30,553.60) scale(1.0,1)">-</text>
<text class="ss" x="0" y="0" font-size="8.6" text-anchor="middle" font-family='"Liberation Sans", sans-serif' fill="#333" letter-spacing="0" transform="translate(444.30,570.80) scale(1.0,1)">+</text>
<text class="ss" x="0" y="0" font-size="8.6" text-anchor="middle" font-family='"Liberation Sans", sans-serif' fill="#333" letter-spacing="0" transform="translate(466.40,553.60) scale(1.0,1)">+</text>
<text class="ss" x="0" y="0" font-size="8.6" text-anchor="middle" font-family='"Liberation Sans", sans-serif' fill="#333" letter-spacing="0" transform="translate(466.40,570.80) scale(1.0,1)">+</text>
<rect x="471.7" y="430.7" width="8.6" height="3.6" rx="1.2" fill="none" stroke="#ff2020" stroke-width="1.0"/>
<text x="483.00" y="435.00" font-size="8.2" text-anchor="start" font-family='"Liberation Serif", serif' fill="#1a1a1a" >WT</text>
<rect x="471.7" y="440.7" width="8.6" height="3.8" rx="1.2" fill="none" stroke="#222" stroke-width="1.0"/>
<text x="483.00" y="445.10" font-size="8.2" text-anchor="start" font-family='"Liberation Serif", serif' fill="#1a1a1a">TKT<tspan font-size="4.84" dy="-3.03" letter-spacing="0.4">AKO</tspan></text>
</g>
</svg>
</body></html>
